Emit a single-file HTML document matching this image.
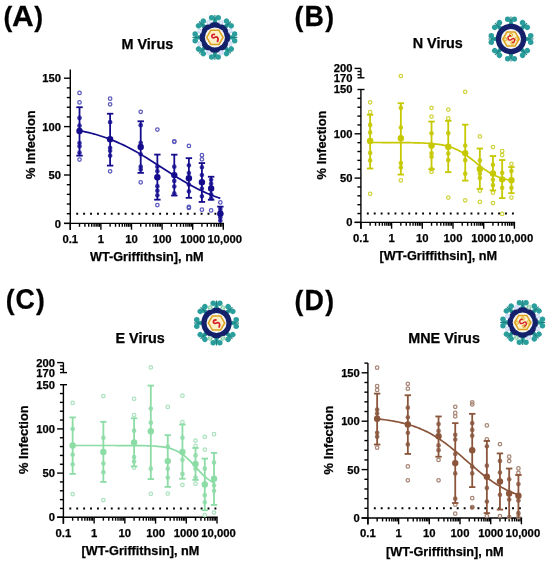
<!DOCTYPE html>
<html><head><meta charset="utf-8"><style>
html,body{margin:0;padding:0;background:#fff;width:550px;height:564px;overflow:hidden}
svg{display:block;will-change:transform}
text{font-family:"Liberation Sans", sans-serif;fill:#000;stroke:#000;stroke-width:0.25}
</style></head><body>
<svg width="550" height="564" viewBox="0 0 550 564">
<rect width="550" height="564" fill="#fff"/>
<line x1="70.3" y1="229.9" x2="70.3" y2="69.49" stroke="#000" stroke-width="1.4"/>
<line x1="64" y1="223.4" x2="224" y2="223.4" stroke="#000" stroke-width="1.4"/>
<line x1="64" y1="223.4" x2="70.3" y2="223.4" stroke="#000" stroke-width="1.4"/>
<text x="61" y="227.5" text-anchor="end" font-size="11.2" font-weight="bold">0</text>
<line x1="66.8" y1="213.72" x2="70.3" y2="213.72" stroke="#000" stroke-width="1.4"/>
<line x1="66.8" y1="204.04" x2="70.3" y2="204.04" stroke="#000" stroke-width="1.4"/>
<line x1="66.8" y1="194.36" x2="70.3" y2="194.36" stroke="#000" stroke-width="1.4"/>
<line x1="66.8" y1="184.68" x2="70.3" y2="184.68" stroke="#000" stroke-width="1.4"/>
<line x1="64" y1="175" x2="70.3" y2="175" stroke="#000" stroke-width="1.4"/>
<text x="61" y="179.1" text-anchor="end" font-size="11.2" font-weight="bold">50</text>
<line x1="66.8" y1="165.32" x2="70.3" y2="165.32" stroke="#000" stroke-width="1.4"/>
<line x1="66.8" y1="155.64" x2="70.3" y2="155.64" stroke="#000" stroke-width="1.4"/>
<line x1="66.8" y1="145.96" x2="70.3" y2="145.96" stroke="#000" stroke-width="1.4"/>
<line x1="66.8" y1="136.28" x2="70.3" y2="136.28" stroke="#000" stroke-width="1.4"/>
<line x1="64" y1="126.6" x2="70.3" y2="126.6" stroke="#000" stroke-width="1.4"/>
<text x="61" y="130.7" text-anchor="end" font-size="11.2" font-weight="bold">100</text>
<line x1="66.8" y1="116.92" x2="70.3" y2="116.92" stroke="#000" stroke-width="1.4"/>
<line x1="66.8" y1="107.24" x2="70.3" y2="107.24" stroke="#000" stroke-width="1.4"/>
<line x1="66.8" y1="97.56" x2="70.3" y2="97.56" stroke="#000" stroke-width="1.4"/>
<line x1="66.8" y1="87.88" x2="70.3" y2="87.88" stroke="#000" stroke-width="1.4"/>
<line x1="64" y1="78.2" x2="70.3" y2="78.2" stroke="#000" stroke-width="1.4"/>
<text x="61" y="82.3" text-anchor="end" font-size="11.2" font-weight="bold">150</text>
<line x1="70.3" y1="223.4" x2="70.3" y2="229.7" stroke="#000" stroke-width="1.4"/>
<line x1="79.51" y1="223.4" x2="79.51" y2="226.8" stroke="#000" stroke-width="1.4"/>
<line x1="84.9" y1="223.4" x2="84.9" y2="226.8" stroke="#000" stroke-width="1.4"/>
<line x1="88.72" y1="223.4" x2="88.72" y2="226.8" stroke="#000" stroke-width="1.4"/>
<line x1="91.69" y1="223.4" x2="91.69" y2="226.8" stroke="#000" stroke-width="1.4"/>
<line x1="94.11" y1="223.4" x2="94.11" y2="226.8" stroke="#000" stroke-width="1.4"/>
<line x1="96.16" y1="223.4" x2="96.16" y2="226.8" stroke="#000" stroke-width="1.4"/>
<line x1="97.93" y1="223.4" x2="97.93" y2="226.8" stroke="#000" stroke-width="1.4"/>
<line x1="99.5" y1="223.4" x2="99.5" y2="226.8" stroke="#000" stroke-width="1.4"/>
<text x="70.3" y="242.6" text-anchor="middle" font-size="11.3" font-weight="bold">0.1</text>
<line x1="100.9" y1="223.4" x2="100.9" y2="229.7" stroke="#000" stroke-width="1.4"/>
<line x1="110.11" y1="223.4" x2="110.11" y2="226.8" stroke="#000" stroke-width="1.4"/>
<line x1="115.5" y1="223.4" x2="115.5" y2="226.8" stroke="#000" stroke-width="1.4"/>
<line x1="119.32" y1="223.4" x2="119.32" y2="226.8" stroke="#000" stroke-width="1.4"/>
<line x1="122.29" y1="223.4" x2="122.29" y2="226.8" stroke="#000" stroke-width="1.4"/>
<line x1="124.71" y1="223.4" x2="124.71" y2="226.8" stroke="#000" stroke-width="1.4"/>
<line x1="126.76" y1="223.4" x2="126.76" y2="226.8" stroke="#000" stroke-width="1.4"/>
<line x1="128.53" y1="223.4" x2="128.53" y2="226.8" stroke="#000" stroke-width="1.4"/>
<line x1="130.1" y1="223.4" x2="130.1" y2="226.8" stroke="#000" stroke-width="1.4"/>
<text x="100.9" y="242.6" text-anchor="middle" font-size="11.3" font-weight="bold">1</text>
<line x1="131.5" y1="223.4" x2="131.5" y2="229.7" stroke="#000" stroke-width="1.4"/>
<line x1="140.71" y1="223.4" x2="140.71" y2="226.8" stroke="#000" stroke-width="1.4"/>
<line x1="146.1" y1="223.4" x2="146.1" y2="226.8" stroke="#000" stroke-width="1.4"/>
<line x1="149.92" y1="223.4" x2="149.92" y2="226.8" stroke="#000" stroke-width="1.4"/>
<line x1="152.89" y1="223.4" x2="152.89" y2="226.8" stroke="#000" stroke-width="1.4"/>
<line x1="155.31" y1="223.4" x2="155.31" y2="226.8" stroke="#000" stroke-width="1.4"/>
<line x1="157.36" y1="223.4" x2="157.36" y2="226.8" stroke="#000" stroke-width="1.4"/>
<line x1="159.13" y1="223.4" x2="159.13" y2="226.8" stroke="#000" stroke-width="1.4"/>
<line x1="160.7" y1="223.4" x2="160.7" y2="226.8" stroke="#000" stroke-width="1.4"/>
<text x="131.5" y="242.6" text-anchor="middle" font-size="11.3" font-weight="bold">10</text>
<line x1="162.1" y1="223.4" x2="162.1" y2="229.7" stroke="#000" stroke-width="1.4"/>
<line x1="171.31" y1="223.4" x2="171.31" y2="226.8" stroke="#000" stroke-width="1.4"/>
<line x1="176.7" y1="223.4" x2="176.7" y2="226.8" stroke="#000" stroke-width="1.4"/>
<line x1="180.52" y1="223.4" x2="180.52" y2="226.8" stroke="#000" stroke-width="1.4"/>
<line x1="183.49" y1="223.4" x2="183.49" y2="226.8" stroke="#000" stroke-width="1.4"/>
<line x1="185.91" y1="223.4" x2="185.91" y2="226.8" stroke="#000" stroke-width="1.4"/>
<line x1="187.96" y1="223.4" x2="187.96" y2="226.8" stroke="#000" stroke-width="1.4"/>
<line x1="189.73" y1="223.4" x2="189.73" y2="226.8" stroke="#000" stroke-width="1.4"/>
<line x1="191.3" y1="223.4" x2="191.3" y2="226.8" stroke="#000" stroke-width="1.4"/>
<text x="162.1" y="242.6" text-anchor="middle" font-size="11.3" font-weight="bold">100</text>
<line x1="192.7" y1="223.4" x2="192.7" y2="229.7" stroke="#000" stroke-width="1.4"/>
<line x1="201.91" y1="223.4" x2="201.91" y2="226.8" stroke="#000" stroke-width="1.4"/>
<line x1="207.3" y1="223.4" x2="207.3" y2="226.8" stroke="#000" stroke-width="1.4"/>
<line x1="211.12" y1="223.4" x2="211.12" y2="226.8" stroke="#000" stroke-width="1.4"/>
<line x1="214.09" y1="223.4" x2="214.09" y2="226.8" stroke="#000" stroke-width="1.4"/>
<line x1="216.51" y1="223.4" x2="216.51" y2="226.8" stroke="#000" stroke-width="1.4"/>
<line x1="218.56" y1="223.4" x2="218.56" y2="226.8" stroke="#000" stroke-width="1.4"/>
<line x1="220.33" y1="223.4" x2="220.33" y2="226.8" stroke="#000" stroke-width="1.4"/>
<line x1="221.9" y1="223.4" x2="221.9" y2="226.8" stroke="#000" stroke-width="1.4"/>
<text x="192.7" y="242.6" text-anchor="middle" font-size="11.3" font-weight="bold">1000</text>
<line x1="223.3" y1="223.4" x2="223.3" y2="229.7" stroke="#000" stroke-width="1.4"/>
<text x="224.8" y="242.6" text-anchor="middle" font-size="11.3" font-weight="bold">10,000</text>
<path d="M76.25 212.77h1.9v1.9h-1.9zM83.16 212.77h1.9v1.9h-1.9zM90.07 212.77h1.9v1.9h-1.9zM96.98 212.77h1.9v1.9h-1.9zM103.89 212.77h1.9v1.9h-1.9zM110.8 212.77h1.9v1.9h-1.9zM117.71 212.77h1.9v1.9h-1.9zM124.62 212.77h1.9v1.9h-1.9zM131.53 212.77h1.9v1.9h-1.9zM138.44 212.77h1.9v1.9h-1.9zM145.35 212.77h1.9v1.9h-1.9zM152.26 212.77h1.9v1.9h-1.9zM159.17 212.77h1.9v1.9h-1.9zM166.08 212.77h1.9v1.9h-1.9zM172.99 212.77h1.9v1.9h-1.9zM179.9 212.77h1.9v1.9h-1.9zM186.81 212.77h1.9v1.9h-1.9zM193.72 212.77h1.9v1.9h-1.9zM200.63 212.77h1.9v1.9h-1.9zM207.54 212.77h1.9v1.9h-1.9zM214.45 212.77h1.9v1.9h-1.9zM221.36 212.77h1.9v1.9h-1.9z" fill="#000"/>
<circle cx="79.51" cy="92.91" r="1.75" fill="none" stroke="#5c5abe" stroke-width="1.25"/>
<circle cx="79.51" cy="102.4" r="1.75" fill="none" stroke="#5c5abe" stroke-width="1.25"/>
<circle cx="79.51" cy="159.51" r="1.75" fill="none" stroke="#5c5abe" stroke-width="1.25"/>
<circle cx="79.51" cy="117.89" r="1.75" fill="none" stroke="#5c5abe" stroke-width="1.25"/>
<circle cx="79.51" cy="125.63" r="1.75" fill="none" stroke="#5c5abe" stroke-width="1.25"/>
<circle cx="79.51" cy="143.06" r="1.75" fill="none" stroke="#5c5abe" stroke-width="1.25"/>
<circle cx="79.51" cy="146.35" r="1.75" fill="none" stroke="#5c5abe" stroke-width="1.25"/>
<circle cx="79.51" cy="152.74" r="1.75" fill="none" stroke="#5c5abe" stroke-width="1.25"/>
<line x1="79.51" y1="107.24" x2="79.51" y2="155.64" stroke="#140c8c" stroke-width="1.8"/>
<line x1="76.31" y1="107.24" x2="82.71" y2="107.24" stroke="#140c8c" stroke-width="1.8"/>
<line x1="76.31" y1="155.64" x2="82.71" y2="155.64" stroke="#140c8c" stroke-width="1.8"/>
<ellipse cx="79.51" cy="117.89" rx="1.9" ry="1.6" fill="#140c8c" opacity="0.7"/>
<ellipse cx="79.51" cy="125.63" rx="1.9" ry="1.6" fill="#140c8c" opacity="0.7"/>
<ellipse cx="79.51" cy="143.06" rx="1.9" ry="1.6" fill="#140c8c" opacity="0.7"/>
<ellipse cx="79.51" cy="146.35" rx="1.9" ry="1.6" fill="#140c8c" opacity="0.7"/>
<ellipse cx="79.51" cy="152.74" rx="1.9" ry="1.6" fill="#140c8c" opacity="0.7"/>
<circle cx="79.51" cy="130.96" r="3.2" fill="#140c8c"/>
<circle cx="110.11" cy="98.72" r="1.75" fill="none" stroke="#5c5abe" stroke-width="1.25"/>
<circle cx="110.11" cy="104.34" r="1.75" fill="none" stroke="#5c5abe" stroke-width="1.25"/>
<circle cx="110.11" cy="171.32" r="1.75" fill="none" stroke="#5c5abe" stroke-width="1.25"/>
<circle cx="110.11" cy="122.15" r="1.75" fill="none" stroke="#5c5abe" stroke-width="1.25"/>
<circle cx="110.11" cy="147.9" r="1.75" fill="none" stroke="#5c5abe" stroke-width="1.25"/>
<circle cx="110.11" cy="150.8" r="1.75" fill="none" stroke="#5c5abe" stroke-width="1.25"/>
<circle cx="110.11" cy="155.64" r="1.75" fill="none" stroke="#5c5abe" stroke-width="1.25"/>
<line x1="110.11" y1="113.73" x2="110.11" y2="165.61" stroke="#140c8c" stroke-width="1.8"/>
<line x1="106.91" y1="113.73" x2="113.31" y2="113.73" stroke="#140c8c" stroke-width="1.8"/>
<line x1="106.91" y1="165.61" x2="113.31" y2="165.61" stroke="#140c8c" stroke-width="1.8"/>
<ellipse cx="110.11" cy="122.15" rx="1.9" ry="1.6" fill="#140c8c" opacity="0.7"/>
<ellipse cx="110.11" cy="147.9" rx="1.9" ry="1.6" fill="#140c8c" opacity="0.7"/>
<ellipse cx="110.11" cy="150.8" rx="1.9" ry="1.6" fill="#140c8c" opacity="0.7"/>
<ellipse cx="110.11" cy="155.64" rx="1.9" ry="1.6" fill="#140c8c" opacity="0.7"/>
<circle cx="110.11" cy="139.18" r="3.2" fill="#140c8c"/>
<circle cx="140.71" cy="111.79" r="1.75" fill="none" stroke="#5c5abe" stroke-width="1.25"/>
<circle cx="140.71" cy="182.36" r="1.75" fill="none" stroke="#5c5abe" stroke-width="1.25"/>
<circle cx="140.71" cy="125.15" r="1.75" fill="none" stroke="#5c5abe" stroke-width="1.25"/>
<circle cx="140.71" cy="142.77" r="1.75" fill="none" stroke="#5c5abe" stroke-width="1.25"/>
<circle cx="140.71" cy="154.28" r="1.75" fill="none" stroke="#5c5abe" stroke-width="1.25"/>
<circle cx="140.71" cy="166.68" r="1.75" fill="none" stroke="#5c5abe" stroke-width="1.25"/>
<circle cx="140.71" cy="169.39" r="1.75" fill="none" stroke="#5c5abe" stroke-width="1.25"/>
<line x1="140.71" y1="121.28" x2="140.71" y2="172.87" stroke="#140c8c" stroke-width="1.8"/>
<line x1="137.51" y1="121.28" x2="143.91" y2="121.28" stroke="#140c8c" stroke-width="1.8"/>
<line x1="137.51" y1="172.87" x2="143.91" y2="172.87" stroke="#140c8c" stroke-width="1.8"/>
<ellipse cx="140.71" cy="125.15" rx="1.9" ry="1.6" fill="#140c8c" opacity="0.7"/>
<ellipse cx="140.71" cy="142.77" rx="1.9" ry="1.6" fill="#140c8c" opacity="0.7"/>
<ellipse cx="140.71" cy="154.28" rx="1.9" ry="1.6" fill="#140c8c" opacity="0.7"/>
<ellipse cx="140.71" cy="166.68" rx="1.9" ry="1.6" fill="#140c8c" opacity="0.7"/>
<ellipse cx="140.71" cy="169.39" rx="1.9" ry="1.6" fill="#140c8c" opacity="0.7"/>
<circle cx="140.71" cy="146.93" r="3.2" fill="#140c8c"/>
<circle cx="157.36" cy="129.5" r="1.75" fill="none" stroke="#5c5abe" stroke-width="1.25"/>
<circle cx="157.36" cy="205.01" r="1.75" fill="none" stroke="#5c5abe" stroke-width="1.25"/>
<circle cx="157.36" cy="166.68" r="1.75" fill="none" stroke="#5c5abe" stroke-width="1.25"/>
<circle cx="157.36" cy="171.13" r="1.75" fill="none" stroke="#5c5abe" stroke-width="1.25"/>
<circle cx="157.36" cy="186.23" r="1.75" fill="none" stroke="#5c5abe" stroke-width="1.25"/>
<circle cx="157.36" cy="190.68" r="1.75" fill="none" stroke="#5c5abe" stroke-width="1.25"/>
<circle cx="157.36" cy="195.33" r="1.75" fill="none" stroke="#5c5abe" stroke-width="1.25"/>
<line x1="157.36" y1="154.58" x2="157.36" y2="199.68" stroke="#140c8c" stroke-width="1.8"/>
<line x1="154.16" y1="154.58" x2="160.56" y2="154.58" stroke="#140c8c" stroke-width="1.8"/>
<line x1="154.16" y1="199.68" x2="160.56" y2="199.68" stroke="#140c8c" stroke-width="1.8"/>
<ellipse cx="157.36" cy="166.68" rx="1.9" ry="1.6" fill="#140c8c" opacity="0.7"/>
<ellipse cx="157.36" cy="171.13" rx="1.9" ry="1.6" fill="#140c8c" opacity="0.7"/>
<ellipse cx="157.36" cy="186.23" rx="1.9" ry="1.6" fill="#140c8c" opacity="0.7"/>
<ellipse cx="157.36" cy="190.68" rx="1.9" ry="1.6" fill="#140c8c" opacity="0.7"/>
<ellipse cx="157.36" cy="195.33" rx="1.9" ry="1.6" fill="#140c8c" opacity="0.7"/>
<circle cx="157.36" cy="177.32" r="3.2" fill="#140c8c"/>
<circle cx="174.28" cy="141.8" r="1.75" fill="none" stroke="#5c5abe" stroke-width="1.25"/>
<circle cx="174.28" cy="141.31" r="1.75" fill="none" stroke="#5c5abe" stroke-width="1.25"/>
<circle cx="174.28" cy="166.68" r="1.75" fill="none" stroke="#5c5abe" stroke-width="1.25"/>
<circle cx="174.28" cy="180.9" r="1.75" fill="none" stroke="#5c5abe" stroke-width="1.25"/>
<circle cx="174.28" cy="186.62" r="1.75" fill="none" stroke="#5c5abe" stroke-width="1.25"/>
<circle cx="174.28" cy="193.39" r="1.75" fill="none" stroke="#5c5abe" stroke-width="1.25"/>
<line x1="174.28" y1="154.67" x2="174.28" y2="195.52" stroke="#140c8c" stroke-width="1.8"/>
<line x1="171.08" y1="154.67" x2="177.48" y2="154.67" stroke="#140c8c" stroke-width="1.8"/>
<line x1="171.08" y1="195.52" x2="177.48" y2="195.52" stroke="#140c8c" stroke-width="1.8"/>
<ellipse cx="174.28" cy="166.68" rx="1.9" ry="1.6" fill="#140c8c" opacity="0.7"/>
<ellipse cx="174.28" cy="180.9" rx="1.9" ry="1.6" fill="#140c8c" opacity="0.7"/>
<ellipse cx="174.28" cy="186.62" rx="1.9" ry="1.6" fill="#140c8c" opacity="0.7"/>
<ellipse cx="174.28" cy="193.39" rx="1.9" ry="1.6" fill="#140c8c" opacity="0.7"/>
<circle cx="174.28" cy="175.1" r="3.2" fill="#140c8c"/>
<circle cx="188.88" cy="145.96" r="1.75" fill="none" stroke="#5c5abe" stroke-width="1.25"/>
<circle cx="188.88" cy="206.94" r="1.75" fill="none" stroke="#5c5abe" stroke-width="1.25"/>
<circle cx="188.88" cy="207.91" r="1.75" fill="none" stroke="#5c5abe" stroke-width="1.25"/>
<circle cx="188.88" cy="165.32" r="1.75" fill="none" stroke="#5c5abe" stroke-width="1.25"/>
<circle cx="188.88" cy="173.06" r="1.75" fill="none" stroke="#5c5abe" stroke-width="1.25"/>
<circle cx="188.88" cy="184.68" r="1.75" fill="none" stroke="#5c5abe" stroke-width="1.25"/>
<circle cx="188.88" cy="191.46" r="1.75" fill="none" stroke="#5c5abe" stroke-width="1.25"/>
<line x1="188.88" y1="158.16" x2="188.88" y2="197.84" stroke="#140c8c" stroke-width="1.8"/>
<line x1="185.68" y1="158.16" x2="192.08" y2="158.16" stroke="#140c8c" stroke-width="1.8"/>
<line x1="185.68" y1="197.84" x2="192.08" y2="197.84" stroke="#140c8c" stroke-width="1.8"/>
<ellipse cx="188.88" cy="165.32" rx="1.9" ry="1.6" fill="#140c8c" opacity="0.7"/>
<ellipse cx="188.88" cy="173.06" rx="1.9" ry="1.6" fill="#140c8c" opacity="0.7"/>
<ellipse cx="188.88" cy="184.68" rx="1.9" ry="1.6" fill="#140c8c" opacity="0.7"/>
<ellipse cx="188.88" cy="191.46" rx="1.9" ry="1.6" fill="#140c8c" opacity="0.7"/>
<circle cx="188.88" cy="178.19" r="3.2" fill="#140c8c"/>
<circle cx="201.91" cy="155.16" r="1.75" fill="none" stroke="#5c5abe" stroke-width="1.25"/>
<circle cx="201.91" cy="159.32" r="1.75" fill="none" stroke="#5c5abe" stroke-width="1.25"/>
<circle cx="201.91" cy="209.65" r="1.75" fill="none" stroke="#5c5abe" stroke-width="1.25"/>
<circle cx="201.91" cy="167.26" r="1.75" fill="none" stroke="#5c5abe" stroke-width="1.25"/>
<circle cx="201.91" cy="175" r="1.75" fill="none" stroke="#5c5abe" stroke-width="1.25"/>
<circle cx="201.91" cy="188.55" r="1.75" fill="none" stroke="#5c5abe" stroke-width="1.25"/>
<circle cx="201.91" cy="196.3" r="1.75" fill="none" stroke="#5c5abe" stroke-width="1.25"/>
<line x1="201.91" y1="163.09" x2="201.91" y2="201.91" stroke="#140c8c" stroke-width="1.8"/>
<line x1="198.71" y1="163.09" x2="205.11" y2="163.09" stroke="#140c8c" stroke-width="1.8"/>
<line x1="198.71" y1="201.91" x2="205.11" y2="201.91" stroke="#140c8c" stroke-width="1.8"/>
<ellipse cx="201.91" cy="167.26" rx="1.9" ry="1.6" fill="#140c8c" opacity="0.7"/>
<ellipse cx="201.91" cy="175" rx="1.9" ry="1.6" fill="#140c8c" opacity="0.7"/>
<ellipse cx="201.91" cy="188.55" rx="1.9" ry="1.6" fill="#140c8c" opacity="0.7"/>
<ellipse cx="201.91" cy="196.3" rx="1.9" ry="1.6" fill="#140c8c" opacity="0.7"/>
<circle cx="201.91" cy="182.26" r="3.2" fill="#140c8c"/>
<circle cx="211.12" cy="210.43" r="1.75" fill="none" stroke="#5c5abe" stroke-width="1.25"/>
<circle cx="211.12" cy="179.84" r="1.75" fill="none" stroke="#5c5abe" stroke-width="1.25"/>
<circle cx="211.12" cy="183.71" r="1.75" fill="none" stroke="#5c5abe" stroke-width="1.25"/>
<circle cx="211.12" cy="194.36" r="1.75" fill="none" stroke="#5c5abe" stroke-width="1.25"/>
<circle cx="211.12" cy="198.23" r="1.75" fill="none" stroke="#5c5abe" stroke-width="1.25"/>
<line x1="211.12" y1="176.74" x2="211.12" y2="199.78" stroke="#140c8c" stroke-width="1.8"/>
<line x1="207.92" y1="176.74" x2="214.32" y2="176.74" stroke="#140c8c" stroke-width="1.8"/>
<line x1="207.92" y1="199.78" x2="214.32" y2="199.78" stroke="#140c8c" stroke-width="1.8"/>
<ellipse cx="211.12" cy="179.84" rx="1.9" ry="1.6" fill="#140c8c" opacity="0.7"/>
<ellipse cx="211.12" cy="183.71" rx="1.9" ry="1.6" fill="#140c8c" opacity="0.7"/>
<ellipse cx="211.12" cy="194.36" rx="1.9" ry="1.6" fill="#140c8c" opacity="0.7"/>
<ellipse cx="211.12" cy="198.23" rx="1.9" ry="1.6" fill="#140c8c" opacity="0.7"/>
<circle cx="211.12" cy="188.55" r="3.2" fill="#140c8c"/>
<circle cx="220.33" cy="202.39" r="1.75" fill="none" stroke="#5c5abe" stroke-width="1.25"/>
<circle cx="220.33" cy="208.88" r="1.75" fill="none" stroke="#5c5abe" stroke-width="1.25"/>
<circle cx="220.33" cy="211.78" r="1.75" fill="none" stroke="#5c5abe" stroke-width="1.25"/>
<circle cx="220.33" cy="217.59" r="1.75" fill="none" stroke="#5c5abe" stroke-width="1.25"/>
<circle cx="220.33" cy="220.5" r="1.75" fill="none" stroke="#5c5abe" stroke-width="1.25"/>
<line x1="220.33" y1="206.65" x2="220.33" y2="222.92" stroke="#140c8c" stroke-width="1.8"/>
<line x1="217.13" y1="206.65" x2="223.53" y2="206.65" stroke="#140c8c" stroke-width="1.8"/>
<ellipse cx="220.33" cy="208.88" rx="1.9" ry="1.6" fill="#140c8c" opacity="0.7"/>
<ellipse cx="220.33" cy="211.78" rx="1.9" ry="1.6" fill="#140c8c" opacity="0.7"/>
<ellipse cx="220.33" cy="217.59" rx="1.9" ry="1.6" fill="#140c8c" opacity="0.7"/>
<ellipse cx="220.33" cy="220.5" rx="1.9" ry="1.6" fill="#140c8c" opacity="0.7"/>
<circle cx="220.33" cy="213.72" r="3.2" fill="#140c8c"/>
<polyline points="79.51,130.56 81.86,131.04 84.21,131.55 86.55,132.08 88.9,132.65 91.25,133.24 93.59,133.87 95.94,134.54 98.29,135.23 100.63,135.96 102.98,136.73 105.33,137.54 107.68,138.38 110.02,139.26 112.37,140.19 114.72,141.15 117.06,142.15 119.41,143.19 121.76,144.27 124.11,145.39 126.45,146.54 128.8,147.74 131.15,148.97 133.49,150.24 135.84,151.54 138.19,152.88 140.53,154.24 142.88,155.64 145.23,157.06 147.58,158.5 149.92,159.96 152.27,161.44 154.62,162.94 156.96,164.44 159.31,165.96 161.66,167.47 164.01,168.99 166.35,170.5 168.7,172.01 171.05,173.51 173.39,174.99 175.74,176.46 178.09,177.91 180.43,179.33 182.78,180.73 185.13,182.1 187.48,183.45 189.82,184.76 192.17,186.03 194.52,187.28 196.86,188.48 199.21,189.65 201.56,190.78 203.91,191.87 206.25,192.91 208.6,193.92 210.95,194.9 213.29,195.83 215.64,196.72 217.99,197.57 220.33,198.38" fill="none" stroke="#140c8c" stroke-width="1.7"/>
<text transform="translate(3.58,25.59) scale(0.95,1)" font-size="27.8" font-weight="bold">(</text>
<text transform="translate(34.31,25.59) scale(0.95,1)" font-size="27.8" font-weight="bold">)</text>
<text transform="translate(12,26.1) scale(1.03,1)" font-size="29.2" font-weight="bold">A</text>
<text x="121.5" y="48.6" font-size="14.4" font-weight="bold">M Virus</text>
<text x="0" y="0" transform="translate(35,144.7) rotate(-90)" text-anchor="middle" font-size="12.9" font-weight="bold">% Infection</text>
<text x="90" y="261" font-size="12.7" font-weight="bold">WT-Griffithsin], nM</text>
<line x1="360.9" y1="228.9" x2="360.9" y2="89.5" stroke="#000" stroke-width="1.4"/>
<line x1="354.6" y1="222.4" x2="515.1" y2="222.4" stroke="#000" stroke-width="1.4"/>
<line x1="354.6" y1="222.4" x2="360.9" y2="222.4" stroke="#000" stroke-width="1.4"/>
<text x="352.4" y="226.2" text-anchor="end" font-size="11.2" font-weight="bold">0</text>
<line x1="357.4" y1="213.54" x2="360.9" y2="213.54" stroke="#000" stroke-width="1.4"/>
<line x1="357.4" y1="204.68" x2="360.9" y2="204.68" stroke="#000" stroke-width="1.4"/>
<line x1="357.4" y1="195.82" x2="360.9" y2="195.82" stroke="#000" stroke-width="1.4"/>
<line x1="357.4" y1="186.96" x2="360.9" y2="186.96" stroke="#000" stroke-width="1.4"/>
<line x1="354.6" y1="178.1" x2="360.9" y2="178.1" stroke="#000" stroke-width="1.4"/>
<text x="352.4" y="181.9" text-anchor="end" font-size="11.2" font-weight="bold">50</text>
<line x1="357.4" y1="169.24" x2="360.9" y2="169.24" stroke="#000" stroke-width="1.4"/>
<line x1="357.4" y1="160.38" x2="360.9" y2="160.38" stroke="#000" stroke-width="1.4"/>
<line x1="357.4" y1="151.52" x2="360.9" y2="151.52" stroke="#000" stroke-width="1.4"/>
<line x1="357.4" y1="142.66" x2="360.9" y2="142.66" stroke="#000" stroke-width="1.4"/>
<line x1="354.6" y1="133.8" x2="360.9" y2="133.8" stroke="#000" stroke-width="1.4"/>
<text x="352.4" y="137.6" text-anchor="end" font-size="11.2" font-weight="bold">100</text>
<line x1="357.4" y1="124.94" x2="360.9" y2="124.94" stroke="#000" stroke-width="1.4"/>
<line x1="357.4" y1="116.08" x2="360.9" y2="116.08" stroke="#000" stroke-width="1.4"/>
<line x1="357.4" y1="107.22" x2="360.9" y2="107.22" stroke="#000" stroke-width="1.4"/>
<line x1="357.4" y1="98.36" x2="360.9" y2="98.36" stroke="#000" stroke-width="1.4"/>
<line x1="357.5" y1="89.5" x2="364.5" y2="89.5" stroke="#000" stroke-width="1.4"/>
<text x="352.4" y="93.3" text-anchor="end" font-size="11.2" font-weight="bold">150</text>
<line x1="360.9" y1="77.8" x2="360.9" y2="68.4" stroke="#000" stroke-width="1.4"/>
<line x1="354.6" y1="68.4" x2="360.9" y2="68.4" stroke="#000" stroke-width="1.4"/>
<line x1="357.5" y1="74.67" x2="360.9" y2="74.67" stroke="#000" stroke-width="1.4"/>
<line x1="357.5" y1="71.53" x2="360.9" y2="71.53" stroke="#000" stroke-width="1.4"/>
<line x1="357.5" y1="77.8" x2="364.5" y2="77.8" stroke="#000" stroke-width="1.4"/>
<text x="352.4" y="72.4" text-anchor="end" font-size="11.2" font-weight="bold">200</text>
<text x="352.4" y="81.8" text-anchor="end" font-size="11.2" font-weight="bold">170</text>
<line x1="360.9" y1="222.4" x2="360.9" y2="228.7" stroke="#000" stroke-width="1.4"/>
<line x1="370.14" y1="222.4" x2="370.14" y2="225.8" stroke="#000" stroke-width="1.4"/>
<line x1="375.55" y1="222.4" x2="375.55" y2="225.8" stroke="#000" stroke-width="1.4"/>
<line x1="379.38" y1="222.4" x2="379.38" y2="225.8" stroke="#000" stroke-width="1.4"/>
<line x1="382.36" y1="222.4" x2="382.36" y2="225.8" stroke="#000" stroke-width="1.4"/>
<line x1="384.79" y1="222.4" x2="384.79" y2="225.8" stroke="#000" stroke-width="1.4"/>
<line x1="386.84" y1="222.4" x2="386.84" y2="225.8" stroke="#000" stroke-width="1.4"/>
<line x1="388.62" y1="222.4" x2="388.62" y2="225.8" stroke="#000" stroke-width="1.4"/>
<line x1="390.2" y1="222.4" x2="390.2" y2="225.8" stroke="#000" stroke-width="1.4"/>
<text x="360.9" y="241.6" text-anchor="middle" font-size="11.3" font-weight="bold">0.1</text>
<line x1="391.6" y1="222.4" x2="391.6" y2="228.7" stroke="#000" stroke-width="1.4"/>
<line x1="400.84" y1="222.4" x2="400.84" y2="225.8" stroke="#000" stroke-width="1.4"/>
<line x1="406.25" y1="222.4" x2="406.25" y2="225.8" stroke="#000" stroke-width="1.4"/>
<line x1="410.08" y1="222.4" x2="410.08" y2="225.8" stroke="#000" stroke-width="1.4"/>
<line x1="413.06" y1="222.4" x2="413.06" y2="225.8" stroke="#000" stroke-width="1.4"/>
<line x1="415.49" y1="222.4" x2="415.49" y2="225.8" stroke="#000" stroke-width="1.4"/>
<line x1="417.54" y1="222.4" x2="417.54" y2="225.8" stroke="#000" stroke-width="1.4"/>
<line x1="419.32" y1="222.4" x2="419.32" y2="225.8" stroke="#000" stroke-width="1.4"/>
<line x1="420.9" y1="222.4" x2="420.9" y2="225.8" stroke="#000" stroke-width="1.4"/>
<text x="391.6" y="241.6" text-anchor="middle" font-size="11.3" font-weight="bold">1</text>
<line x1="422.3" y1="222.4" x2="422.3" y2="228.7" stroke="#000" stroke-width="1.4"/>
<line x1="431.54" y1="222.4" x2="431.54" y2="225.8" stroke="#000" stroke-width="1.4"/>
<line x1="436.95" y1="222.4" x2="436.95" y2="225.8" stroke="#000" stroke-width="1.4"/>
<line x1="440.78" y1="222.4" x2="440.78" y2="225.8" stroke="#000" stroke-width="1.4"/>
<line x1="443.76" y1="222.4" x2="443.76" y2="225.8" stroke="#000" stroke-width="1.4"/>
<line x1="446.19" y1="222.4" x2="446.19" y2="225.8" stroke="#000" stroke-width="1.4"/>
<line x1="448.24" y1="222.4" x2="448.24" y2="225.8" stroke="#000" stroke-width="1.4"/>
<line x1="450.02" y1="222.4" x2="450.02" y2="225.8" stroke="#000" stroke-width="1.4"/>
<line x1="451.6" y1="222.4" x2="451.6" y2="225.8" stroke="#000" stroke-width="1.4"/>
<text x="422.3" y="241.6" text-anchor="middle" font-size="11.3" font-weight="bold">10</text>
<line x1="453" y1="222.4" x2="453" y2="228.7" stroke="#000" stroke-width="1.4"/>
<line x1="462.24" y1="222.4" x2="462.24" y2="225.8" stroke="#000" stroke-width="1.4"/>
<line x1="467.65" y1="222.4" x2="467.65" y2="225.8" stroke="#000" stroke-width="1.4"/>
<line x1="471.48" y1="222.4" x2="471.48" y2="225.8" stroke="#000" stroke-width="1.4"/>
<line x1="474.46" y1="222.4" x2="474.46" y2="225.8" stroke="#000" stroke-width="1.4"/>
<line x1="476.89" y1="222.4" x2="476.89" y2="225.8" stroke="#000" stroke-width="1.4"/>
<line x1="478.94" y1="222.4" x2="478.94" y2="225.8" stroke="#000" stroke-width="1.4"/>
<line x1="480.72" y1="222.4" x2="480.72" y2="225.8" stroke="#000" stroke-width="1.4"/>
<line x1="482.3" y1="222.4" x2="482.3" y2="225.8" stroke="#000" stroke-width="1.4"/>
<text x="453" y="241.6" text-anchor="middle" font-size="11.3" font-weight="bold">100</text>
<line x1="483.7" y1="222.4" x2="483.7" y2="228.7" stroke="#000" stroke-width="1.4"/>
<line x1="492.94" y1="222.4" x2="492.94" y2="225.8" stroke="#000" stroke-width="1.4"/>
<line x1="498.35" y1="222.4" x2="498.35" y2="225.8" stroke="#000" stroke-width="1.4"/>
<line x1="502.18" y1="222.4" x2="502.18" y2="225.8" stroke="#000" stroke-width="1.4"/>
<line x1="505.16" y1="222.4" x2="505.16" y2="225.8" stroke="#000" stroke-width="1.4"/>
<line x1="507.59" y1="222.4" x2="507.59" y2="225.8" stroke="#000" stroke-width="1.4"/>
<line x1="509.64" y1="222.4" x2="509.64" y2="225.8" stroke="#000" stroke-width="1.4"/>
<line x1="511.42" y1="222.4" x2="511.42" y2="225.8" stroke="#000" stroke-width="1.4"/>
<line x1="513" y1="222.4" x2="513" y2="225.8" stroke="#000" stroke-width="1.4"/>
<text x="483.7" y="241.6" text-anchor="middle" font-size="11.3" font-weight="bold">1000</text>
<line x1="514.4" y1="222.4" x2="514.4" y2="228.7" stroke="#000" stroke-width="1.4"/>
<text x="515.9" y="241.6" text-anchor="middle" font-size="11.3" font-weight="bold">10,000</text>
<path d="M366.85 212.59h1.9v1.9h-1.9zM373.76 212.59h1.9v1.9h-1.9zM380.67 212.59h1.9v1.9h-1.9zM387.58 212.59h1.9v1.9h-1.9zM394.49 212.59h1.9v1.9h-1.9zM401.4 212.59h1.9v1.9h-1.9zM408.31 212.59h1.9v1.9h-1.9zM415.22 212.59h1.9v1.9h-1.9zM422.13 212.59h1.9v1.9h-1.9zM429.04 212.59h1.9v1.9h-1.9zM435.95 212.59h1.9v1.9h-1.9zM442.86 212.59h1.9v1.9h-1.9zM449.77 212.59h1.9v1.9h-1.9zM456.68 212.59h1.9v1.9h-1.9zM463.59 212.59h1.9v1.9h-1.9zM470.5 212.59h1.9v1.9h-1.9zM477.41 212.59h1.9v1.9h-1.9zM484.32 212.59h1.9v1.9h-1.9zM491.23 212.59h1.9v1.9h-1.9zM498.14 212.59h1.9v1.9h-1.9zM505.05 212.59h1.9v1.9h-1.9zM511.96 212.59h1.9v1.9h-1.9z" fill="#000"/>
<circle cx="370.14" cy="102.35" r="1.75" fill="none" stroke="#d0d440" stroke-width="1.25"/>
<circle cx="370.14" cy="112.18" r="1.75" fill="none" stroke="#d0d440" stroke-width="1.25"/>
<circle cx="370.14" cy="193.78" r="1.75" fill="none" stroke="#d0d440" stroke-width="1.25"/>
<circle cx="370.14" cy="124.94" r="1.75" fill="none" stroke="#d0d440" stroke-width="1.25"/>
<circle cx="370.14" cy="132.47" r="1.75" fill="none" stroke="#d0d440" stroke-width="1.25"/>
<circle cx="370.14" cy="152.94" r="1.75" fill="none" stroke="#d0d440" stroke-width="1.25"/>
<circle cx="370.14" cy="160.38" r="1.75" fill="none" stroke="#d0d440" stroke-width="1.25"/>
<line x1="370.14" y1="114.75" x2="370.14" y2="168.53" stroke="#c6c800" stroke-width="1.8"/>
<line x1="366.94" y1="114.75" x2="373.34" y2="114.75" stroke="#c6c800" stroke-width="1.8"/>
<line x1="366.94" y1="168.53" x2="373.34" y2="168.53" stroke="#c6c800" stroke-width="1.8"/>
<ellipse cx="370.14" cy="124.94" rx="1.9" ry="1.6" fill="#c6c800" opacity="0.7"/>
<ellipse cx="370.14" cy="132.47" rx="1.9" ry="1.6" fill="#c6c800" opacity="0.7"/>
<ellipse cx="370.14" cy="152.94" rx="1.9" ry="1.6" fill="#c6c800" opacity="0.7"/>
<ellipse cx="370.14" cy="160.38" rx="1.9" ry="1.6" fill="#c6c800" opacity="0.7"/>
<circle cx="370.14" cy="141.07" r="3.2" fill="#c6c800"/>
<circle cx="400.84" cy="76.11" r="1.75" fill="none" stroke="#d0d440" stroke-width="1.25"/>
<circle cx="400.84" cy="180.4" r="1.75" fill="none" stroke="#d0d440" stroke-width="1.25"/>
<circle cx="400.84" cy="107.84" r="1.75" fill="none" stroke="#d0d440" stroke-width="1.25"/>
<circle cx="400.84" cy="127.6" r="1.75" fill="none" stroke="#d0d440" stroke-width="1.25"/>
<circle cx="400.84" cy="163.04" r="1.75" fill="none" stroke="#d0d440" stroke-width="1.25"/>
<circle cx="400.84" cy="167.47" r="1.75" fill="none" stroke="#d0d440" stroke-width="1.25"/>
<line x1="400.84" y1="103.23" x2="400.84" y2="174.56" stroke="#c6c800" stroke-width="1.8"/>
<line x1="397.64" y1="103.23" x2="404.04" y2="103.23" stroke="#c6c800" stroke-width="1.8"/>
<line x1="397.64" y1="174.56" x2="404.04" y2="174.56" stroke="#c6c800" stroke-width="1.8"/>
<ellipse cx="400.84" cy="107.84" rx="1.9" ry="1.6" fill="#c6c800" opacity="0.7"/>
<ellipse cx="400.84" cy="127.6" rx="1.9" ry="1.6" fill="#c6c800" opacity="0.7"/>
<ellipse cx="400.84" cy="163.04" rx="1.9" ry="1.6" fill="#c6c800" opacity="0.7"/>
<ellipse cx="400.84" cy="167.47" rx="1.9" ry="1.6" fill="#c6c800" opacity="0.7"/>
<circle cx="400.84" cy="138.23" r="3.2" fill="#c6c800"/>
<circle cx="431.54" cy="107.84" r="1.75" fill="none" stroke="#d0d440" stroke-width="1.25"/>
<circle cx="431.54" cy="116.52" r="1.75" fill="none" stroke="#d0d440" stroke-width="1.25"/>
<circle cx="431.54" cy="171.9" r="1.75" fill="none" stroke="#d0d440" stroke-width="1.25"/>
<circle cx="431.54" cy="133.36" r="1.75" fill="none" stroke="#d0d440" stroke-width="1.25"/>
<circle cx="431.54" cy="153.29" r="1.75" fill="none" stroke="#d0d440" stroke-width="1.25"/>
<circle cx="431.54" cy="156.84" r="1.75" fill="none" stroke="#d0d440" stroke-width="1.25"/>
<circle cx="431.54" cy="169.24" r="1.75" fill="none" stroke="#d0d440" stroke-width="1.25"/>
<line x1="431.54" y1="121.57" x2="431.54" y2="169.24" stroke="#c6c800" stroke-width="1.8"/>
<line x1="428.34" y1="121.57" x2="434.74" y2="121.57" stroke="#c6c800" stroke-width="1.8"/>
<line x1="428.34" y1="169.24" x2="434.74" y2="169.24" stroke="#c6c800" stroke-width="1.8"/>
<ellipse cx="431.54" cy="133.36" rx="1.9" ry="1.6" fill="#c6c800" opacity="0.7"/>
<ellipse cx="431.54" cy="153.29" rx="1.9" ry="1.6" fill="#c6c800" opacity="0.7"/>
<ellipse cx="431.54" cy="156.84" rx="1.9" ry="1.6" fill="#c6c800" opacity="0.7"/>
<ellipse cx="431.54" cy="169.24" rx="1.9" ry="1.6" fill="#c6c800" opacity="0.7"/>
<circle cx="431.54" cy="145.5" r="3.2" fill="#c6c800"/>
<circle cx="448.24" cy="109.52" r="1.75" fill="none" stroke="#d0d440" stroke-width="1.25"/>
<circle cx="448.24" cy="118.47" r="1.75" fill="none" stroke="#d0d440" stroke-width="1.25"/>
<circle cx="448.24" cy="197.59" r="1.75" fill="none" stroke="#d0d440" stroke-width="1.25"/>
<circle cx="448.24" cy="133.18" r="1.75" fill="none" stroke="#d0d440" stroke-width="1.25"/>
<circle cx="448.24" cy="153.56" r="1.75" fill="none" stroke="#d0d440" stroke-width="1.25"/>
<circle cx="448.24" cy="160.2" r="1.75" fill="none" stroke="#d0d440" stroke-width="1.25"/>
<line x1="448.24" y1="120.86" x2="448.24" y2="172.16" stroke="#c6c800" stroke-width="1.8"/>
<line x1="445.04" y1="120.86" x2="451.44" y2="120.86" stroke="#c6c800" stroke-width="1.8"/>
<line x1="445.04" y1="172.16" x2="451.44" y2="172.16" stroke="#c6c800" stroke-width="1.8"/>
<ellipse cx="448.24" cy="133.18" rx="1.9" ry="1.6" fill="#c6c800" opacity="0.7"/>
<ellipse cx="448.24" cy="153.56" rx="1.9" ry="1.6" fill="#c6c800" opacity="0.7"/>
<ellipse cx="448.24" cy="160.2" rx="1.9" ry="1.6" fill="#c6c800" opacity="0.7"/>
<circle cx="448.24" cy="146.82" r="3.2" fill="#c6c800"/>
<circle cx="465.22" cy="91.8" r="1.75" fill="none" stroke="#d0d440" stroke-width="1.25"/>
<circle cx="465.22" cy="200.25" r="1.75" fill="none" stroke="#d0d440" stroke-width="1.25"/>
<circle cx="465.22" cy="145.5" r="1.75" fill="none" stroke="#d0d440" stroke-width="1.25"/>
<circle cx="465.22" cy="160.2" r="1.75" fill="none" stroke="#d0d440" stroke-width="1.25"/>
<circle cx="465.22" cy="173.67" r="1.75" fill="none" stroke="#d0d440" stroke-width="1.25"/>
<line x1="465.22" y1="124.67" x2="465.22" y2="180.58" stroke="#c6c800" stroke-width="1.8"/>
<line x1="462.02" y1="124.67" x2="468.42" y2="124.67" stroke="#c6c800" stroke-width="1.8"/>
<line x1="462.02" y1="180.58" x2="468.42" y2="180.58" stroke="#c6c800" stroke-width="1.8"/>
<ellipse cx="465.22" cy="145.5" rx="1.9" ry="1.6" fill="#c6c800" opacity="0.7"/>
<ellipse cx="465.22" cy="160.2" rx="1.9" ry="1.6" fill="#c6c800" opacity="0.7"/>
<ellipse cx="465.22" cy="173.67" rx="1.9" ry="1.6" fill="#c6c800" opacity="0.7"/>
<circle cx="465.22" cy="153.11" r="3.2" fill="#c6c800"/>
<circle cx="479.86" cy="136.46" r="1.75" fill="none" stroke="#d0d440" stroke-width="1.25"/>
<circle cx="479.86" cy="190.68" r="1.75" fill="none" stroke="#d0d440" stroke-width="1.25"/>
<circle cx="479.86" cy="201.93" r="1.75" fill="none" stroke="#d0d440" stroke-width="1.25"/>
<circle cx="479.86" cy="160.38" r="1.75" fill="none" stroke="#d0d440" stroke-width="1.25"/>
<circle cx="479.86" cy="173.67" r="1.75" fill="none" stroke="#d0d440" stroke-width="1.25"/>
<circle cx="479.86" cy="178.1" r="1.75" fill="none" stroke="#d0d440" stroke-width="1.25"/>
<line x1="479.86" y1="148.51" x2="479.86" y2="188.82" stroke="#c6c800" stroke-width="1.8"/>
<line x1="476.66" y1="148.51" x2="483.06" y2="148.51" stroke="#c6c800" stroke-width="1.8"/>
<line x1="476.66" y1="188.82" x2="483.06" y2="188.82" stroke="#c6c800" stroke-width="1.8"/>
<ellipse cx="479.86" cy="160.38" rx="1.9" ry="1.6" fill="#c6c800" opacity="0.7"/>
<ellipse cx="479.86" cy="173.67" rx="1.9" ry="1.6" fill="#c6c800" opacity="0.7"/>
<ellipse cx="479.86" cy="178.1" rx="1.9" ry="1.6" fill="#c6c800" opacity="0.7"/>
<circle cx="479.86" cy="169.06" r="3.2" fill="#c6c800"/>
<circle cx="492.94" cy="147.09" r="1.75" fill="none" stroke="#d0d440" stroke-width="1.25"/>
<circle cx="492.94" cy="192.72" r="1.75" fill="none" stroke="#d0d440" stroke-width="1.25"/>
<circle cx="492.94" cy="203" r="1.75" fill="none" stroke="#d0d440" stroke-width="1.25"/>
<circle cx="492.94" cy="164.81" r="1.75" fill="none" stroke="#d0d440" stroke-width="1.25"/>
<circle cx="492.94" cy="179.87" r="1.75" fill="none" stroke="#d0d440" stroke-width="1.25"/>
<circle cx="492.94" cy="185.19" r="1.75" fill="none" stroke="#d0d440" stroke-width="1.25"/>
<line x1="492.94" y1="156.04" x2="492.94" y2="190.42" stroke="#c6c800" stroke-width="1.8"/>
<line x1="489.74" y1="156.04" x2="496.14" y2="156.04" stroke="#c6c800" stroke-width="1.8"/>
<line x1="489.74" y1="190.42" x2="496.14" y2="190.42" stroke="#c6c800" stroke-width="1.8"/>
<ellipse cx="492.94" cy="164.81" rx="1.9" ry="1.6" fill="#c6c800" opacity="0.7"/>
<ellipse cx="492.94" cy="179.87" rx="1.9" ry="1.6" fill="#c6c800" opacity="0.7"/>
<ellipse cx="492.94" cy="185.19" rx="1.9" ry="1.6" fill="#c6c800" opacity="0.7"/>
<circle cx="492.94" cy="173.49" r="3.2" fill="#c6c800"/>
<circle cx="502.18" cy="151.17" r="1.75" fill="none" stroke="#d0d440" stroke-width="1.25"/>
<circle cx="502.18" cy="155.06" r="1.75" fill="none" stroke="#d0d440" stroke-width="1.25"/>
<circle cx="502.18" cy="213.98" r="1.75" fill="none" stroke="#d0d440" stroke-width="1.25"/>
<circle cx="502.18" cy="172.78" r="1.75" fill="none" stroke="#d0d440" stroke-width="1.25"/>
<circle cx="502.18" cy="187.85" r="1.75" fill="none" stroke="#d0d440" stroke-width="1.25"/>
<line x1="502.18" y1="160.03" x2="502.18" y2="198.12" stroke="#c6c800" stroke-width="1.8"/>
<line x1="498.98" y1="160.03" x2="505.38" y2="160.03" stroke="#c6c800" stroke-width="1.8"/>
<line x1="498.98" y1="198.12" x2="505.38" y2="198.12" stroke="#c6c800" stroke-width="1.8"/>
<ellipse cx="502.18" cy="172.78" rx="1.9" ry="1.6" fill="#c6c800" opacity="0.7"/>
<ellipse cx="502.18" cy="187.85" rx="1.9" ry="1.6" fill="#c6c800" opacity="0.7"/>
<circle cx="502.18" cy="179.34" r="3.2" fill="#c6c800"/>
<circle cx="511.42" cy="163.75" r="1.75" fill="none" stroke="#d0d440" stroke-width="1.25"/>
<circle cx="511.42" cy="197.59" r="1.75" fill="none" stroke="#d0d440" stroke-width="1.25"/>
<circle cx="511.42" cy="171.01" r="1.75" fill="none" stroke="#d0d440" stroke-width="1.25"/>
<circle cx="511.42" cy="187.85" r="1.75" fill="none" stroke="#d0d440" stroke-width="1.25"/>
<line x1="511.42" y1="167.03" x2="511.42" y2="193.16" stroke="#c6c800" stroke-width="1.8"/>
<line x1="508.22" y1="167.03" x2="514.62" y2="167.03" stroke="#c6c800" stroke-width="1.8"/>
<line x1="508.22" y1="193.16" x2="514.62" y2="193.16" stroke="#c6c800" stroke-width="1.8"/>
<ellipse cx="511.42" cy="171.01" rx="1.9" ry="1.6" fill="#c6c800" opacity="0.7"/>
<ellipse cx="511.42" cy="187.85" rx="1.9" ry="1.6" fill="#c6c800" opacity="0.7"/>
<circle cx="511.42" cy="180.14" r="3.2" fill="#c6c800"/>
<polyline points="370.14,142.51 372.5,142.52 374.85,142.52 377.21,142.52 379.56,142.52 381.92,142.53 384.27,142.53 386.62,142.53 388.98,142.54 391.33,142.55 393.69,142.56 396.04,142.57 398.4,142.58 400.75,142.6 403.11,142.61 405.46,142.64 407.82,142.66 410.17,142.7 412.53,142.74 414.88,142.79 417.24,142.85 419.59,142.92 421.95,143 424.3,143.11 426.65,143.23 429.01,143.38 431.36,143.56 433.72,143.78 436.07,144.03 438.43,144.34 440.78,144.71 443.14,145.14 445.49,145.66 447.85,146.26 450.2,146.97 452.56,147.79 454.91,148.73 457.27,149.8 459.62,151.02 461.98,152.37 464.33,153.86 466.69,155.48 469.04,157.21 471.39,159.04 473.75,160.92 476.1,162.83 478.46,164.73 480.81,166.59 483.17,168.38 485.52,170.07 487.88,171.65 490.23,173.09 492.59,174.39 494.94,175.55 497.3,176.57 499.65,177.46 502.01,178.24 504.36,178.9 506.72,179.47 509.07,179.95 511.42,180.36" fill="none" stroke="#c6c800" stroke-width="1.7"/>
<text transform="translate(294.38,25.59) scale(0.95,1)" font-size="27.8" font-weight="bold">(</text>
<text transform="translate(325.21,25.59) scale(0.95,1)" font-size="27.8" font-weight="bold">)</text>
<text transform="translate(304.42,26.1) scale(0.92,1)" font-size="29.2" font-weight="bold">B</text>
<text x="412.7" y="47.7" font-size="14.4" font-weight="bold">N Virus</text>
<text x="0" y="0" transform="translate(326.3,145) rotate(-90)" text-anchor="middle" font-size="12.9" font-weight="bold">% Infection</text>
<text x="379.5" y="259.5" font-size="12.7" font-weight="bold">[WT-Griffithsin], nM</text>
<line x1="63.4" y1="523.8" x2="63.4" y2="384.7" stroke="#000" stroke-width="1.4"/>
<line x1="57.1" y1="517.3" x2="217.7" y2="517.3" stroke="#000" stroke-width="1.4"/>
<line x1="57.1" y1="517.3" x2="63.4" y2="517.3" stroke="#000" stroke-width="1.4"/>
<text x="54.9" y="521.1" text-anchor="end" font-size="11.2" font-weight="bold">0</text>
<line x1="59.9" y1="508.46" x2="63.4" y2="508.46" stroke="#000" stroke-width="1.4"/>
<line x1="59.9" y1="499.62" x2="63.4" y2="499.62" stroke="#000" stroke-width="1.4"/>
<line x1="59.9" y1="490.78" x2="63.4" y2="490.78" stroke="#000" stroke-width="1.4"/>
<line x1="59.9" y1="481.94" x2="63.4" y2="481.94" stroke="#000" stroke-width="1.4"/>
<line x1="57.1" y1="473.1" x2="63.4" y2="473.1" stroke="#000" stroke-width="1.4"/>
<text x="54.9" y="476.9" text-anchor="end" font-size="11.2" font-weight="bold">50</text>
<line x1="59.9" y1="464.26" x2="63.4" y2="464.26" stroke="#000" stroke-width="1.4"/>
<line x1="59.9" y1="455.42" x2="63.4" y2="455.42" stroke="#000" stroke-width="1.4"/>
<line x1="59.9" y1="446.58" x2="63.4" y2="446.58" stroke="#000" stroke-width="1.4"/>
<line x1="59.9" y1="437.74" x2="63.4" y2="437.74" stroke="#000" stroke-width="1.4"/>
<line x1="57.1" y1="428.9" x2="63.4" y2="428.9" stroke="#000" stroke-width="1.4"/>
<text x="54.9" y="432.7" text-anchor="end" font-size="11.2" font-weight="bold">100</text>
<line x1="59.9" y1="420.06" x2="63.4" y2="420.06" stroke="#000" stroke-width="1.4"/>
<line x1="59.9" y1="411.22" x2="63.4" y2="411.22" stroke="#000" stroke-width="1.4"/>
<line x1="59.9" y1="402.38" x2="63.4" y2="402.38" stroke="#000" stroke-width="1.4"/>
<line x1="59.9" y1="393.54" x2="63.4" y2="393.54" stroke="#000" stroke-width="1.4"/>
<line x1="60" y1="384.7" x2="67" y2="384.7" stroke="#000" stroke-width="1.4"/>
<text x="54.9" y="388.5" text-anchor="end" font-size="11.2" font-weight="bold">150</text>
<line x1="63.4" y1="372.6" x2="63.4" y2="362.6" stroke="#000" stroke-width="1.4"/>
<line x1="57.1" y1="362.6" x2="63.4" y2="362.6" stroke="#000" stroke-width="1.4"/>
<line x1="60" y1="369.27" x2="63.4" y2="369.27" stroke="#000" stroke-width="1.4"/>
<line x1="60" y1="365.93" x2="63.4" y2="365.93" stroke="#000" stroke-width="1.4"/>
<line x1="60" y1="372.6" x2="67" y2="372.6" stroke="#000" stroke-width="1.4"/>
<text x="54.9" y="366.6" text-anchor="end" font-size="11.2" font-weight="bold">200</text>
<text x="54.9" y="376.6" text-anchor="end" font-size="11.2" font-weight="bold">170</text>
<line x1="63.4" y1="517.3" x2="63.4" y2="523.6" stroke="#000" stroke-width="1.4"/>
<line x1="72.65" y1="517.3" x2="72.65" y2="520.7" stroke="#000" stroke-width="1.4"/>
<line x1="78.06" y1="517.3" x2="78.06" y2="520.7" stroke="#000" stroke-width="1.4"/>
<line x1="81.9" y1="517.3" x2="81.9" y2="520.7" stroke="#000" stroke-width="1.4"/>
<line x1="84.87" y1="517.3" x2="84.87" y2="520.7" stroke="#000" stroke-width="1.4"/>
<line x1="87.3" y1="517.3" x2="87.3" y2="520.7" stroke="#000" stroke-width="1.4"/>
<line x1="89.36" y1="517.3" x2="89.36" y2="520.7" stroke="#000" stroke-width="1.4"/>
<line x1="91.14" y1="517.3" x2="91.14" y2="520.7" stroke="#000" stroke-width="1.4"/>
<line x1="92.71" y1="517.3" x2="92.71" y2="520.7" stroke="#000" stroke-width="1.4"/>
<text x="63.4" y="536.5" text-anchor="middle" font-size="11.3" font-weight="bold">0.1</text>
<line x1="94.12" y1="517.3" x2="94.12" y2="523.6" stroke="#000" stroke-width="1.4"/>
<line x1="103.37" y1="517.3" x2="103.37" y2="520.7" stroke="#000" stroke-width="1.4"/>
<line x1="108.78" y1="517.3" x2="108.78" y2="520.7" stroke="#000" stroke-width="1.4"/>
<line x1="112.62" y1="517.3" x2="112.62" y2="520.7" stroke="#000" stroke-width="1.4"/>
<line x1="115.59" y1="517.3" x2="115.59" y2="520.7" stroke="#000" stroke-width="1.4"/>
<line x1="118.02" y1="517.3" x2="118.02" y2="520.7" stroke="#000" stroke-width="1.4"/>
<line x1="120.08" y1="517.3" x2="120.08" y2="520.7" stroke="#000" stroke-width="1.4"/>
<line x1="121.86" y1="517.3" x2="121.86" y2="520.7" stroke="#000" stroke-width="1.4"/>
<line x1="123.43" y1="517.3" x2="123.43" y2="520.7" stroke="#000" stroke-width="1.4"/>
<text x="94.12" y="536.5" text-anchor="middle" font-size="11.3" font-weight="bold">1</text>
<line x1="124.84" y1="517.3" x2="124.84" y2="523.6" stroke="#000" stroke-width="1.4"/>
<line x1="134.09" y1="517.3" x2="134.09" y2="520.7" stroke="#000" stroke-width="1.4"/>
<line x1="139.5" y1="517.3" x2="139.5" y2="520.7" stroke="#000" stroke-width="1.4"/>
<line x1="143.34" y1="517.3" x2="143.34" y2="520.7" stroke="#000" stroke-width="1.4"/>
<line x1="146.31" y1="517.3" x2="146.31" y2="520.7" stroke="#000" stroke-width="1.4"/>
<line x1="148.74" y1="517.3" x2="148.74" y2="520.7" stroke="#000" stroke-width="1.4"/>
<line x1="150.8" y1="517.3" x2="150.8" y2="520.7" stroke="#000" stroke-width="1.4"/>
<line x1="152.58" y1="517.3" x2="152.58" y2="520.7" stroke="#000" stroke-width="1.4"/>
<line x1="154.15" y1="517.3" x2="154.15" y2="520.7" stroke="#000" stroke-width="1.4"/>
<text x="124.84" y="536.5" text-anchor="middle" font-size="11.3" font-weight="bold">10</text>
<line x1="155.56" y1="517.3" x2="155.56" y2="523.6" stroke="#000" stroke-width="1.4"/>
<line x1="164.81" y1="517.3" x2="164.81" y2="520.7" stroke="#000" stroke-width="1.4"/>
<line x1="170.22" y1="517.3" x2="170.22" y2="520.7" stroke="#000" stroke-width="1.4"/>
<line x1="174.06" y1="517.3" x2="174.06" y2="520.7" stroke="#000" stroke-width="1.4"/>
<line x1="177.03" y1="517.3" x2="177.03" y2="520.7" stroke="#000" stroke-width="1.4"/>
<line x1="179.46" y1="517.3" x2="179.46" y2="520.7" stroke="#000" stroke-width="1.4"/>
<line x1="181.52" y1="517.3" x2="181.52" y2="520.7" stroke="#000" stroke-width="1.4"/>
<line x1="183.3" y1="517.3" x2="183.3" y2="520.7" stroke="#000" stroke-width="1.4"/>
<line x1="184.87" y1="517.3" x2="184.87" y2="520.7" stroke="#000" stroke-width="1.4"/>
<text x="155.56" y="536.5" text-anchor="middle" font-size="11.3" font-weight="bold">100</text>
<line x1="186.28" y1="517.3" x2="186.28" y2="523.6" stroke="#000" stroke-width="1.4"/>
<line x1="195.53" y1="517.3" x2="195.53" y2="520.7" stroke="#000" stroke-width="1.4"/>
<line x1="200.94" y1="517.3" x2="200.94" y2="520.7" stroke="#000" stroke-width="1.4"/>
<line x1="204.78" y1="517.3" x2="204.78" y2="520.7" stroke="#000" stroke-width="1.4"/>
<line x1="207.75" y1="517.3" x2="207.75" y2="520.7" stroke="#000" stroke-width="1.4"/>
<line x1="210.18" y1="517.3" x2="210.18" y2="520.7" stroke="#000" stroke-width="1.4"/>
<line x1="212.24" y1="517.3" x2="212.24" y2="520.7" stroke="#000" stroke-width="1.4"/>
<line x1="214.02" y1="517.3" x2="214.02" y2="520.7" stroke="#000" stroke-width="1.4"/>
<line x1="215.59" y1="517.3" x2="215.59" y2="520.7" stroke="#000" stroke-width="1.4"/>
<text x="186.28" y="536.5" text-anchor="middle" font-size="11.3" font-weight="bold">1000</text>
<line x1="217" y1="517.3" x2="217" y2="523.6" stroke="#000" stroke-width="1.4"/>
<text x="218.5" y="536.5" text-anchor="middle" font-size="11.3" font-weight="bold">10,000</text>
<path d="M69.35 507.51h1.9v1.9h-1.9zM76.26 507.51h1.9v1.9h-1.9zM83.17 507.51h1.9v1.9h-1.9zM90.08 507.51h1.9v1.9h-1.9zM96.99 507.51h1.9v1.9h-1.9zM103.9 507.51h1.9v1.9h-1.9zM110.81 507.51h1.9v1.9h-1.9zM117.72 507.51h1.9v1.9h-1.9zM124.63 507.51h1.9v1.9h-1.9zM131.54 507.51h1.9v1.9h-1.9zM138.45 507.51h1.9v1.9h-1.9zM145.36 507.51h1.9v1.9h-1.9zM152.27 507.51h1.9v1.9h-1.9zM159.18 507.51h1.9v1.9h-1.9zM166.09 507.51h1.9v1.9h-1.9zM173 507.51h1.9v1.9h-1.9zM179.91 507.51h1.9v1.9h-1.9zM186.82 507.51h1.9v1.9h-1.9zM193.73 507.51h1.9v1.9h-1.9zM200.64 507.51h1.9v1.9h-1.9zM207.55 507.51h1.9v1.9h-1.9zM214.46 507.51h1.9v1.9h-1.9z" fill="#000"/>
<circle cx="72.65" cy="402.91" r="1.75" fill="none" stroke="#ace2c0" stroke-width="1.25"/>
<circle cx="72.65" cy="494.23" r="1.75" fill="none" stroke="#ace2c0" stroke-width="1.25"/>
<circle cx="72.65" cy="428.9" r="1.75" fill="none" stroke="#ace2c0" stroke-width="1.25"/>
<circle cx="72.65" cy="454.71" r="1.75" fill="none" stroke="#ace2c0" stroke-width="1.25"/>
<circle cx="72.65" cy="464.26" r="1.75" fill="none" stroke="#ace2c0" stroke-width="1.25"/>
<line x1="72.65" y1="417.41" x2="72.65" y2="473.9" stroke="#8cdca5" stroke-width="1.8"/>
<line x1="69.45" y1="417.41" x2="75.85" y2="417.41" stroke="#8cdca5" stroke-width="1.8"/>
<line x1="69.45" y1="473.9" x2="75.85" y2="473.9" stroke="#8cdca5" stroke-width="1.8"/>
<ellipse cx="72.65" cy="428.9" rx="1.9" ry="1.6" fill="#8cdca5" opacity="0.7"/>
<ellipse cx="72.65" cy="454.71" rx="1.9" ry="1.6" fill="#8cdca5" opacity="0.7"/>
<ellipse cx="72.65" cy="464.26" rx="1.9" ry="1.6" fill="#8cdca5" opacity="0.7"/>
<circle cx="72.65" cy="445.52" r="3.2" fill="#8cdca5"/>
<circle cx="103.37" cy="396.19" r="1.75" fill="none" stroke="#ace2c0" stroke-width="1.25"/>
<circle cx="103.37" cy="500.24" r="1.75" fill="none" stroke="#ace2c0" stroke-width="1.25"/>
<circle cx="103.37" cy="437.74" r="1.75" fill="none" stroke="#ace2c0" stroke-width="1.25"/>
<circle cx="103.37" cy="463.38" r="1.75" fill="none" stroke="#ace2c0" stroke-width="1.25"/>
<circle cx="103.37" cy="472.22" r="1.75" fill="none" stroke="#ace2c0" stroke-width="1.25"/>
<line x1="103.37" y1="421.83" x2="103.37" y2="481.94" stroke="#8cdca5" stroke-width="1.8"/>
<line x1="100.17" y1="421.83" x2="106.57" y2="421.83" stroke="#8cdca5" stroke-width="1.8"/>
<line x1="100.17" y1="481.94" x2="106.57" y2="481.94" stroke="#8cdca5" stroke-width="1.8"/>
<ellipse cx="103.37" cy="437.74" rx="1.9" ry="1.6" fill="#8cdca5" opacity="0.7"/>
<ellipse cx="103.37" cy="463.38" rx="1.9" ry="1.6" fill="#8cdca5" opacity="0.7"/>
<ellipse cx="103.37" cy="472.22" rx="1.9" ry="1.6" fill="#8cdca5" opacity="0.7"/>
<circle cx="103.37" cy="451.88" r="3.2" fill="#8cdca5"/>
<circle cx="134.09" cy="398.84" r="1.75" fill="none" stroke="#ace2c0" stroke-width="1.25"/>
<circle cx="134.09" cy="415.11" r="1.75" fill="none" stroke="#ace2c0" stroke-width="1.25"/>
<circle cx="134.09" cy="467.53" r="1.75" fill="none" stroke="#ace2c0" stroke-width="1.25"/>
<circle cx="134.09" cy="430.67" r="1.75" fill="none" stroke="#ace2c0" stroke-width="1.25"/>
<circle cx="134.09" cy="457.19" r="1.75" fill="none" stroke="#ace2c0" stroke-width="1.25"/>
<circle cx="134.09" cy="461.61" r="1.75" fill="none" stroke="#ace2c0" stroke-width="1.25"/>
<line x1="134.09" y1="418.29" x2="134.09" y2="466.38" stroke="#8cdca5" stroke-width="1.8"/>
<line x1="130.89" y1="418.29" x2="137.29" y2="418.29" stroke="#8cdca5" stroke-width="1.8"/>
<line x1="130.89" y1="466.38" x2="137.29" y2="466.38" stroke="#8cdca5" stroke-width="1.8"/>
<ellipse cx="134.09" cy="430.67" rx="1.9" ry="1.6" fill="#8cdca5" opacity="0.7"/>
<ellipse cx="134.09" cy="457.19" rx="1.9" ry="1.6" fill="#8cdca5" opacity="0.7"/>
<ellipse cx="134.09" cy="461.61" rx="1.9" ry="1.6" fill="#8cdca5" opacity="0.7"/>
<circle cx="134.09" cy="442.51" r="3.2" fill="#8cdca5"/>
<circle cx="150.8" cy="367.4" r="1.75" fill="none" stroke="#ace2c0" stroke-width="1.25"/>
<circle cx="150.8" cy="493.79" r="1.75" fill="none" stroke="#ace2c0" stroke-width="1.25"/>
<circle cx="150.8" cy="408.57" r="1.75" fill="none" stroke="#ace2c0" stroke-width="1.25"/>
<circle cx="150.8" cy="422.71" r="1.75" fill="none" stroke="#ace2c0" stroke-width="1.25"/>
<circle cx="150.8" cy="468.68" r="1.75" fill="none" stroke="#ace2c0" stroke-width="1.25"/>
<line x1="150.8" y1="385.58" x2="150.8" y2="479.11" stroke="#8cdca5" stroke-width="1.8"/>
<line x1="147.6" y1="385.58" x2="154" y2="385.58" stroke="#8cdca5" stroke-width="1.8"/>
<line x1="147.6" y1="479.11" x2="154" y2="479.11" stroke="#8cdca5" stroke-width="1.8"/>
<ellipse cx="150.8" cy="408.57" rx="1.9" ry="1.6" fill="#8cdca5" opacity="0.7"/>
<ellipse cx="150.8" cy="422.71" rx="1.9" ry="1.6" fill="#8cdca5" opacity="0.7"/>
<ellipse cx="150.8" cy="468.68" rx="1.9" ry="1.6" fill="#8cdca5" opacity="0.7"/>
<circle cx="150.8" cy="431.2" r="3.2" fill="#8cdca5"/>
<circle cx="167.78" cy="406.98" r="1.75" fill="none" stroke="#ace2c0" stroke-width="1.25"/>
<circle cx="167.78" cy="493.52" r="1.75" fill="none" stroke="#ace2c0" stroke-width="1.25"/>
<circle cx="167.78" cy="446.58" r="1.75" fill="none" stroke="#ace2c0" stroke-width="1.25"/>
<circle cx="167.78" cy="468.68" r="1.75" fill="none" stroke="#ace2c0" stroke-width="1.25"/>
<circle cx="167.78" cy="477.52" r="1.75" fill="none" stroke="#ace2c0" stroke-width="1.25"/>
<line x1="167.78" y1="435.18" x2="167.78" y2="486.89" stroke="#8cdca5" stroke-width="1.8"/>
<line x1="164.58" y1="435.18" x2="170.98" y2="435.18" stroke="#8cdca5" stroke-width="1.8"/>
<line x1="164.58" y1="486.89" x2="170.98" y2="486.89" stroke="#8cdca5" stroke-width="1.8"/>
<ellipse cx="167.78" cy="446.58" rx="1.9" ry="1.6" fill="#8cdca5" opacity="0.7"/>
<ellipse cx="167.78" cy="468.68" rx="1.9" ry="1.6" fill="#8cdca5" opacity="0.7"/>
<ellipse cx="167.78" cy="477.52" rx="1.9" ry="1.6" fill="#8cdca5" opacity="0.7"/>
<circle cx="167.78" cy="461.08" r="3.2" fill="#8cdca5"/>
<circle cx="182.44" cy="395.66" r="1.75" fill="none" stroke="#ace2c0" stroke-width="1.25"/>
<circle cx="182.44" cy="422.18" r="1.75" fill="none" stroke="#ace2c0" stroke-width="1.25"/>
<circle cx="182.44" cy="484.77" r="1.75" fill="none" stroke="#ace2c0" stroke-width="1.25"/>
<circle cx="182.44" cy="437.74" r="1.75" fill="none" stroke="#ace2c0" stroke-width="1.25"/>
<circle cx="182.44" cy="459.84" r="1.75" fill="none" stroke="#ace2c0" stroke-width="1.25"/>
<circle cx="182.44" cy="473.98" r="1.75" fill="none" stroke="#ace2c0" stroke-width="1.25"/>
<line x1="182.44" y1="424.57" x2="182.44" y2="478.76" stroke="#8cdca5" stroke-width="1.8"/>
<line x1="179.24" y1="424.57" x2="185.64" y2="424.57" stroke="#8cdca5" stroke-width="1.8"/>
<line x1="179.24" y1="478.76" x2="185.64" y2="478.76" stroke="#8cdca5" stroke-width="1.8"/>
<ellipse cx="182.44" cy="437.74" rx="1.9" ry="1.6" fill="#8cdca5" opacity="0.7"/>
<ellipse cx="182.44" cy="459.84" rx="1.9" ry="1.6" fill="#8cdca5" opacity="0.7"/>
<ellipse cx="182.44" cy="473.98" rx="1.9" ry="1.6" fill="#8cdca5" opacity="0.7"/>
<circle cx="182.44" cy="452.06" r="3.2" fill="#8cdca5"/>
<circle cx="195.53" cy="440.57" r="1.75" fill="none" stroke="#ace2c0" stroke-width="1.25"/>
<circle cx="195.53" cy="445.87" r="1.75" fill="none" stroke="#ace2c0" stroke-width="1.25"/>
<circle cx="195.53" cy="483.71" r="1.75" fill="none" stroke="#ace2c0" stroke-width="1.25"/>
<circle cx="195.53" cy="455.42" r="1.75" fill="none" stroke="#ace2c0" stroke-width="1.25"/>
<circle cx="195.53" cy="468.68" r="1.75" fill="none" stroke="#ace2c0" stroke-width="1.25"/>
<circle cx="195.53" cy="477.52" r="1.75" fill="none" stroke="#ace2c0" stroke-width="1.25"/>
<line x1="195.53" y1="447.99" x2="195.53" y2="479.91" stroke="#8cdca5" stroke-width="1.8"/>
<line x1="192.33" y1="447.99" x2="198.73" y2="447.99" stroke="#8cdca5" stroke-width="1.8"/>
<line x1="192.33" y1="479.91" x2="198.73" y2="479.91" stroke="#8cdca5" stroke-width="1.8"/>
<ellipse cx="195.53" cy="455.42" rx="1.9" ry="1.6" fill="#8cdca5" opacity="0.7"/>
<ellipse cx="195.53" cy="468.68" rx="1.9" ry="1.6" fill="#8cdca5" opacity="0.7"/>
<ellipse cx="195.53" cy="477.52" rx="1.9" ry="1.6" fill="#8cdca5" opacity="0.7"/>
<circle cx="195.53" cy="463.99" r="3.2" fill="#8cdca5"/>
<circle cx="204.78" cy="436.86" r="1.75" fill="none" stroke="#ace2c0" stroke-width="1.25"/>
<circle cx="204.78" cy="449.59" r="1.75" fill="none" stroke="#ace2c0" stroke-width="1.25"/>
<circle cx="204.78" cy="515.09" r="1.75" fill="none" stroke="#ace2c0" stroke-width="1.25"/>
<circle cx="204.78" cy="468.68" r="1.75" fill="none" stroke="#ace2c0" stroke-width="1.25"/>
<circle cx="204.78" cy="495.2" r="1.75" fill="none" stroke="#ace2c0" stroke-width="1.25"/>
<circle cx="204.78" cy="502.27" r="1.75" fill="none" stroke="#ace2c0" stroke-width="1.25"/>
<line x1="204.78" y1="458.6" x2="204.78" y2="510.23" stroke="#8cdca5" stroke-width="1.8"/>
<line x1="201.58" y1="458.6" x2="207.98" y2="458.6" stroke="#8cdca5" stroke-width="1.8"/>
<line x1="201.58" y1="510.23" x2="207.98" y2="510.23" stroke="#8cdca5" stroke-width="1.8"/>
<ellipse cx="204.78" cy="468.68" rx="1.9" ry="1.6" fill="#8cdca5" opacity="0.7"/>
<ellipse cx="204.78" cy="495.2" rx="1.9" ry="1.6" fill="#8cdca5" opacity="0.7"/>
<ellipse cx="204.78" cy="502.27" rx="1.9" ry="1.6" fill="#8cdca5" opacity="0.7"/>
<circle cx="204.78" cy="484.5" r="3.2" fill="#8cdca5"/>
<circle cx="214.02" cy="434.2" r="1.75" fill="none" stroke="#ace2c0" stroke-width="1.25"/>
<circle cx="214.02" cy="512.61" r="1.75" fill="none" stroke="#ace2c0" stroke-width="1.25"/>
<circle cx="214.02" cy="462.49" r="1.75" fill="none" stroke="#ace2c0" stroke-width="1.25"/>
<circle cx="214.02" cy="485.48" r="1.75" fill="none" stroke="#ace2c0" stroke-width="1.25"/>
<circle cx="214.02" cy="490.78" r="1.75" fill="none" stroke="#ace2c0" stroke-width="1.25"/>
<line x1="214.02" y1="452.86" x2="214.02" y2="504.92" stroke="#8cdca5" stroke-width="1.8"/>
<line x1="210.82" y1="452.86" x2="217.22" y2="452.86" stroke="#8cdca5" stroke-width="1.8"/>
<line x1="210.82" y1="504.92" x2="217.22" y2="504.92" stroke="#8cdca5" stroke-width="1.8"/>
<ellipse cx="214.02" cy="462.49" rx="1.9" ry="1.6" fill="#8cdca5" opacity="0.7"/>
<ellipse cx="214.02" cy="485.48" rx="1.9" ry="1.6" fill="#8cdca5" opacity="0.7"/>
<ellipse cx="214.02" cy="490.78" rx="1.9" ry="1.6" fill="#8cdca5" opacity="0.7"/>
<circle cx="214.02" cy="478.76" r="3.2" fill="#8cdca5"/>
<polyline points="72.65,445.51 75,445.51 77.36,445.51 79.72,445.51 82.07,445.51 84.43,445.51 86.79,445.52 89.14,445.52 91.5,445.52 93.85,445.52 96.21,445.52 98.57,445.52 100.92,445.52 103.28,445.52 105.64,445.52 107.99,445.52 110.35,445.52 112.7,445.52 115.06,445.52 117.42,445.53 119.77,445.53 122.13,445.54 124.49,445.54 126.84,445.55 129.2,445.56 131.55,445.57 133.91,445.59 136.27,445.61 138.62,445.63 140.98,445.67 143.34,445.71 145.69,445.76 148.05,445.83 150.4,445.92 152.76,446.02 155.12,446.16 157.47,446.34 159.83,446.56 162.19,446.84 164.54,447.19 166.9,447.63 169.25,448.17 171.61,448.85 173.97,449.68 176.32,450.68 178.68,451.9 181.04,453.33 183.39,455.01 185.75,456.93 188.1,459.08 190.46,461.43 192.82,463.94 195.17,466.53 197.53,469.13 199.89,471.68 202.24,474.09 204.6,476.32 206.95,478.33 209.31,480.09 211.67,481.62 214.02,482.91" fill="none" stroke="#8cdca5" stroke-width="1.7"/>
<text transform="translate(5.68,309.19) scale(0.95,1)" font-size="27.8" font-weight="bold">(</text>
<text transform="translate(36.11,309.19) scale(0.95,1)" font-size="27.8" font-weight="bold">)</text>
<text transform="translate(15.53,308.8) scale(0.91,1)" font-size="29.4" font-weight="bold">C</text>
<text x="115.5" y="342.7" font-size="14.4" font-weight="bold">E Virus</text>
<text x="0" y="0" transform="translate(28.3,439.7) rotate(-90)" text-anchor="middle" font-size="12.9" font-weight="bold">% Infection</text>
<text x="81.6" y="554.8" font-size="12.7" font-weight="bold">[WT-Griffithsin], nM</text>
<line x1="367.9" y1="524.5" x2="367.9" y2="363.12" stroke="#000" stroke-width="1.4"/>
<line x1="361.6" y1="518" x2="522.1" y2="518" stroke="#000" stroke-width="1.4"/>
<line x1="361.6" y1="518" x2="367.9" y2="518" stroke="#000" stroke-width="1.4"/>
<text x="359.8" y="522.1" text-anchor="end" font-size="11.2" font-weight="bold">0</text>
<line x1="364.4" y1="508.32" x2="367.9" y2="508.32" stroke="#000" stroke-width="1.4"/>
<line x1="364.4" y1="498.64" x2="367.9" y2="498.64" stroke="#000" stroke-width="1.4"/>
<line x1="364.4" y1="488.96" x2="367.9" y2="488.96" stroke="#000" stroke-width="1.4"/>
<line x1="364.4" y1="479.28" x2="367.9" y2="479.28" stroke="#000" stroke-width="1.4"/>
<line x1="361.6" y1="469.6" x2="367.9" y2="469.6" stroke="#000" stroke-width="1.4"/>
<text x="359.8" y="473.7" text-anchor="end" font-size="11.2" font-weight="bold">50</text>
<line x1="364.4" y1="459.92" x2="367.9" y2="459.92" stroke="#000" stroke-width="1.4"/>
<line x1="364.4" y1="450.24" x2="367.9" y2="450.24" stroke="#000" stroke-width="1.4"/>
<line x1="364.4" y1="440.56" x2="367.9" y2="440.56" stroke="#000" stroke-width="1.4"/>
<line x1="364.4" y1="430.88" x2="367.9" y2="430.88" stroke="#000" stroke-width="1.4"/>
<line x1="361.6" y1="421.2" x2="367.9" y2="421.2" stroke="#000" stroke-width="1.4"/>
<text x="359.8" y="425.3" text-anchor="end" font-size="11.2" font-weight="bold">100</text>
<line x1="364.4" y1="411.52" x2="367.9" y2="411.52" stroke="#000" stroke-width="1.4"/>
<line x1="364.4" y1="401.84" x2="367.9" y2="401.84" stroke="#000" stroke-width="1.4"/>
<line x1="364.4" y1="392.16" x2="367.9" y2="392.16" stroke="#000" stroke-width="1.4"/>
<line x1="364.4" y1="382.48" x2="367.9" y2="382.48" stroke="#000" stroke-width="1.4"/>
<line x1="361.6" y1="372.8" x2="367.9" y2="372.8" stroke="#000" stroke-width="1.4"/>
<text x="359.8" y="376.9" text-anchor="end" font-size="11.2" font-weight="bold">150</text>
<line x1="364.4" y1="363.12" x2="367.9" y2="363.12" stroke="#000" stroke-width="1.4"/>
<line x1="367.9" y1="518" x2="367.9" y2="524.3" stroke="#000" stroke-width="1.4"/>
<line x1="377.14" y1="518" x2="377.14" y2="521.4" stroke="#000" stroke-width="1.4"/>
<line x1="382.55" y1="518" x2="382.55" y2="521.4" stroke="#000" stroke-width="1.4"/>
<line x1="386.38" y1="518" x2="386.38" y2="521.4" stroke="#000" stroke-width="1.4"/>
<line x1="389.36" y1="518" x2="389.36" y2="521.4" stroke="#000" stroke-width="1.4"/>
<line x1="391.79" y1="518" x2="391.79" y2="521.4" stroke="#000" stroke-width="1.4"/>
<line x1="393.84" y1="518" x2="393.84" y2="521.4" stroke="#000" stroke-width="1.4"/>
<line x1="395.62" y1="518" x2="395.62" y2="521.4" stroke="#000" stroke-width="1.4"/>
<line x1="397.2" y1="518" x2="397.2" y2="521.4" stroke="#000" stroke-width="1.4"/>
<text x="367.9" y="537.2" text-anchor="middle" font-size="11.3" font-weight="bold">0.1</text>
<line x1="398.6" y1="518" x2="398.6" y2="524.3" stroke="#000" stroke-width="1.4"/>
<line x1="407.84" y1="518" x2="407.84" y2="521.4" stroke="#000" stroke-width="1.4"/>
<line x1="413.25" y1="518" x2="413.25" y2="521.4" stroke="#000" stroke-width="1.4"/>
<line x1="417.08" y1="518" x2="417.08" y2="521.4" stroke="#000" stroke-width="1.4"/>
<line x1="420.06" y1="518" x2="420.06" y2="521.4" stroke="#000" stroke-width="1.4"/>
<line x1="422.49" y1="518" x2="422.49" y2="521.4" stroke="#000" stroke-width="1.4"/>
<line x1="424.54" y1="518" x2="424.54" y2="521.4" stroke="#000" stroke-width="1.4"/>
<line x1="426.32" y1="518" x2="426.32" y2="521.4" stroke="#000" stroke-width="1.4"/>
<line x1="427.9" y1="518" x2="427.9" y2="521.4" stroke="#000" stroke-width="1.4"/>
<text x="398.6" y="537.2" text-anchor="middle" font-size="11.3" font-weight="bold">1</text>
<line x1="429.3" y1="518" x2="429.3" y2="524.3" stroke="#000" stroke-width="1.4"/>
<line x1="438.54" y1="518" x2="438.54" y2="521.4" stroke="#000" stroke-width="1.4"/>
<line x1="443.95" y1="518" x2="443.95" y2="521.4" stroke="#000" stroke-width="1.4"/>
<line x1="447.78" y1="518" x2="447.78" y2="521.4" stroke="#000" stroke-width="1.4"/>
<line x1="450.76" y1="518" x2="450.76" y2="521.4" stroke="#000" stroke-width="1.4"/>
<line x1="453.19" y1="518" x2="453.19" y2="521.4" stroke="#000" stroke-width="1.4"/>
<line x1="455.24" y1="518" x2="455.24" y2="521.4" stroke="#000" stroke-width="1.4"/>
<line x1="457.02" y1="518" x2="457.02" y2="521.4" stroke="#000" stroke-width="1.4"/>
<line x1="458.6" y1="518" x2="458.6" y2="521.4" stroke="#000" stroke-width="1.4"/>
<text x="429.3" y="537.2" text-anchor="middle" font-size="11.3" font-weight="bold">10</text>
<line x1="460" y1="518" x2="460" y2="524.3" stroke="#000" stroke-width="1.4"/>
<line x1="469.24" y1="518" x2="469.24" y2="521.4" stroke="#000" stroke-width="1.4"/>
<line x1="474.65" y1="518" x2="474.65" y2="521.4" stroke="#000" stroke-width="1.4"/>
<line x1="478.48" y1="518" x2="478.48" y2="521.4" stroke="#000" stroke-width="1.4"/>
<line x1="481.46" y1="518" x2="481.46" y2="521.4" stroke="#000" stroke-width="1.4"/>
<line x1="483.89" y1="518" x2="483.89" y2="521.4" stroke="#000" stroke-width="1.4"/>
<line x1="485.94" y1="518" x2="485.94" y2="521.4" stroke="#000" stroke-width="1.4"/>
<line x1="487.72" y1="518" x2="487.72" y2="521.4" stroke="#000" stroke-width="1.4"/>
<line x1="489.3" y1="518" x2="489.3" y2="521.4" stroke="#000" stroke-width="1.4"/>
<text x="460" y="537.2" text-anchor="middle" font-size="11.3" font-weight="bold">100</text>
<line x1="490.7" y1="518" x2="490.7" y2="524.3" stroke="#000" stroke-width="1.4"/>
<line x1="499.94" y1="518" x2="499.94" y2="521.4" stroke="#000" stroke-width="1.4"/>
<line x1="505.35" y1="518" x2="505.35" y2="521.4" stroke="#000" stroke-width="1.4"/>
<line x1="509.18" y1="518" x2="509.18" y2="521.4" stroke="#000" stroke-width="1.4"/>
<line x1="512.16" y1="518" x2="512.16" y2="521.4" stroke="#000" stroke-width="1.4"/>
<line x1="514.59" y1="518" x2="514.59" y2="521.4" stroke="#000" stroke-width="1.4"/>
<line x1="516.64" y1="518" x2="516.64" y2="521.4" stroke="#000" stroke-width="1.4"/>
<line x1="518.42" y1="518" x2="518.42" y2="521.4" stroke="#000" stroke-width="1.4"/>
<line x1="520" y1="518" x2="520" y2="521.4" stroke="#000" stroke-width="1.4"/>
<text x="490.7" y="537.2" text-anchor="middle" font-size="11.3" font-weight="bold">1000</text>
<line x1="521.4" y1="518" x2="521.4" y2="524.3" stroke="#000" stroke-width="1.4"/>
<text x="522.9" y="537.2" text-anchor="middle" font-size="11.3" font-weight="bold">10,000</text>
<path d="M373.85 507.37h1.9v1.9h-1.9zM380.76 507.37h1.9v1.9h-1.9zM387.67 507.37h1.9v1.9h-1.9zM394.58 507.37h1.9v1.9h-1.9zM401.49 507.37h1.9v1.9h-1.9zM408.4 507.37h1.9v1.9h-1.9zM415.31 507.37h1.9v1.9h-1.9zM422.22 507.37h1.9v1.9h-1.9zM429.13 507.37h1.9v1.9h-1.9zM436.04 507.37h1.9v1.9h-1.9zM442.95 507.37h1.9v1.9h-1.9zM449.86 507.37h1.9v1.9h-1.9zM456.77 507.37h1.9v1.9h-1.9zM463.68 507.37h1.9v1.9h-1.9zM470.59 507.37h1.9v1.9h-1.9zM477.5 507.37h1.9v1.9h-1.9zM484.41 507.37h1.9v1.9h-1.9zM491.32 507.37h1.9v1.9h-1.9zM498.23 507.37h1.9v1.9h-1.9zM505.14 507.37h1.9v1.9h-1.9zM512.05 507.37h1.9v1.9h-1.9zM518.96 507.37h1.9v1.9h-1.9z" fill="#000"/>
<circle cx="377.14" cy="367.67" r="1.75" fill="none" stroke="#a88676" stroke-width="1.25"/>
<circle cx="377.14" cy="386.06" r="1.75" fill="none" stroke="#a88676" stroke-width="1.25"/>
<circle cx="377.14" cy="389.93" r="1.75" fill="none" stroke="#a88676" stroke-width="1.25"/>
<circle cx="377.14" cy="447.72" r="1.75" fill="none" stroke="#a88676" stroke-width="1.25"/>
<circle cx="377.14" cy="409.58" r="1.75" fill="none" stroke="#a88676" stroke-width="1.25"/>
<circle cx="377.14" cy="413.46" r="1.75" fill="none" stroke="#a88676" stroke-width="1.25"/>
<circle cx="377.14" cy="432.82" r="1.75" fill="none" stroke="#a88676" stroke-width="1.25"/>
<circle cx="377.14" cy="436.69" r="1.75" fill="none" stroke="#a88676" stroke-width="1.25"/>
<line x1="377.14" y1="393.61" x2="377.14" y2="444.53" stroke="#8a553a" stroke-width="1.8"/>
<line x1="373.94" y1="393.61" x2="380.34" y2="393.61" stroke="#8a553a" stroke-width="1.8"/>
<line x1="373.94" y1="444.53" x2="380.34" y2="444.53" stroke="#8a553a" stroke-width="1.8"/>
<ellipse cx="377.14" cy="409.58" rx="1.9" ry="1.6" fill="#8a553a" opacity="0.7"/>
<ellipse cx="377.14" cy="413.46" rx="1.9" ry="1.6" fill="#8a553a" opacity="0.7"/>
<ellipse cx="377.14" cy="432.82" rx="1.9" ry="1.6" fill="#8a553a" opacity="0.7"/>
<ellipse cx="377.14" cy="436.69" rx="1.9" ry="1.6" fill="#8a553a" opacity="0.7"/>
<circle cx="377.14" cy="418.78" r="3.2" fill="#8a553a"/>
<circle cx="407.84" cy="383.84" r="1.75" fill="none" stroke="#a88676" stroke-width="1.25"/>
<circle cx="407.84" cy="388.68" r="1.75" fill="none" stroke="#a88676" stroke-width="1.25"/>
<circle cx="407.84" cy="466.41" r="1.75" fill="none" stroke="#a88676" stroke-width="1.25"/>
<circle cx="407.84" cy="480.25" r="1.75" fill="none" stroke="#a88676" stroke-width="1.25"/>
<circle cx="407.84" cy="407.65" r="1.75" fill="none" stroke="#a88676" stroke-width="1.25"/>
<circle cx="407.84" cy="417.33" r="1.75" fill="none" stroke="#a88676" stroke-width="1.25"/>
<circle cx="407.84" cy="432.82" r="1.75" fill="none" stroke="#a88676" stroke-width="1.25"/>
<circle cx="407.84" cy="444.43" r="1.75" fill="none" stroke="#a88676" stroke-width="1.25"/>
<line x1="407.84" y1="395.26" x2="407.84" y2="453.92" stroke="#8a553a" stroke-width="1.8"/>
<line x1="404.64" y1="395.26" x2="411.04" y2="395.26" stroke="#8a553a" stroke-width="1.8"/>
<line x1="404.64" y1="453.92" x2="411.04" y2="453.92" stroke="#8a553a" stroke-width="1.8"/>
<ellipse cx="407.84" cy="407.65" rx="1.9" ry="1.6" fill="#8a553a" opacity="0.7"/>
<ellipse cx="407.84" cy="417.33" rx="1.9" ry="1.6" fill="#8a553a" opacity="0.7"/>
<ellipse cx="407.84" cy="432.82" rx="1.9" ry="1.6" fill="#8a553a" opacity="0.7"/>
<ellipse cx="407.84" cy="444.43" rx="1.9" ry="1.6" fill="#8a553a" opacity="0.7"/>
<circle cx="407.84" cy="424.49" r="3.2" fill="#8a553a"/>
<circle cx="438.54" cy="459.92" r="1.75" fill="none" stroke="#a88676" stroke-width="1.25"/>
<circle cx="438.54" cy="480.25" r="1.75" fill="none" stroke="#a88676" stroke-width="1.25"/>
<circle cx="438.54" cy="424.1" r="1.75" fill="none" stroke="#a88676" stroke-width="1.25"/>
<circle cx="438.54" cy="430.88" r="1.75" fill="none" stroke="#a88676" stroke-width="1.25"/>
<circle cx="438.54" cy="445.4" r="1.75" fill="none" stroke="#a88676" stroke-width="1.25"/>
<circle cx="438.54" cy="450.24" r="1.75" fill="none" stroke="#a88676" stroke-width="1.25"/>
<line x1="438.54" y1="416.46" x2="438.54" y2="456.73" stroke="#8a553a" stroke-width="1.8"/>
<line x1="435.34" y1="416.46" x2="441.74" y2="416.46" stroke="#8a553a" stroke-width="1.8"/>
<line x1="435.34" y1="456.73" x2="441.74" y2="456.73" stroke="#8a553a" stroke-width="1.8"/>
<ellipse cx="438.54" cy="424.1" rx="1.9" ry="1.6" fill="#8a553a" opacity="0.7"/>
<ellipse cx="438.54" cy="430.88" rx="1.9" ry="1.6" fill="#8a553a" opacity="0.7"/>
<ellipse cx="438.54" cy="445.4" rx="1.9" ry="1.6" fill="#8a553a" opacity="0.7"/>
<ellipse cx="438.54" cy="450.24" rx="1.9" ry="1.6" fill="#8a553a" opacity="0.7"/>
<circle cx="438.54" cy="436.3" r="3.2" fill="#8a553a"/>
<circle cx="455.24" cy="406.78" r="1.75" fill="none" stroke="#a88676" stroke-width="1.25"/>
<circle cx="455.24" cy="412.88" r="1.75" fill="none" stroke="#a88676" stroke-width="1.25"/>
<circle cx="455.24" cy="416.26" r="1.75" fill="none" stroke="#a88676" stroke-width="1.25"/>
<circle cx="455.24" cy="504.64" r="1.75" fill="none" stroke="#a88676" stroke-width="1.25"/>
<circle cx="455.24" cy="513.64" r="1.75" fill="none" stroke="#a88676" stroke-width="1.25"/>
<circle cx="455.24" cy="434.75" r="1.75" fill="none" stroke="#a88676" stroke-width="1.25"/>
<circle cx="455.24" cy="439.59" r="1.75" fill="none" stroke="#a88676" stroke-width="1.25"/>
<circle cx="455.24" cy="454.11" r="1.75" fill="none" stroke="#a88676" stroke-width="1.25"/>
<circle cx="455.24" cy="473.47" r="1.75" fill="none" stroke="#a88676" stroke-width="1.25"/>
<circle cx="455.24" cy="498.64" r="1.75" fill="none" stroke="#a88676" stroke-width="1.25"/>
<line x1="455.24" y1="423.14" x2="455.24" y2="503" stroke="#8a553a" stroke-width="1.8"/>
<line x1="452.04" y1="423.14" x2="458.44" y2="423.14" stroke="#8a553a" stroke-width="1.8"/>
<line x1="452.04" y1="503" x2="458.44" y2="503" stroke="#8a553a" stroke-width="1.8"/>
<ellipse cx="455.24" cy="434.75" rx="1.9" ry="1.6" fill="#8a553a" opacity="0.7"/>
<ellipse cx="455.24" cy="439.59" rx="1.9" ry="1.6" fill="#8a553a" opacity="0.7"/>
<ellipse cx="455.24" cy="454.11" rx="1.9" ry="1.6" fill="#8a553a" opacity="0.7"/>
<ellipse cx="455.24" cy="473.47" rx="1.9" ry="1.6" fill="#8a553a" opacity="0.7"/>
<ellipse cx="455.24" cy="498.64" rx="1.9" ry="1.6" fill="#8a553a" opacity="0.7"/>
<circle cx="455.24" cy="463.11" r="3.2" fill="#8a553a"/>
<circle cx="472.22" cy="402.42" r="1.75" fill="none" stroke="#a88676" stroke-width="1.25"/>
<circle cx="472.22" cy="404.45" r="1.75" fill="none" stroke="#a88676" stroke-width="1.25"/>
<circle cx="472.22" cy="498.16" r="1.75" fill="none" stroke="#a88676" stroke-width="1.25"/>
<circle cx="472.22" cy="507.06" r="1.75" fill="none" stroke="#a88676" stroke-width="1.25"/>
<circle cx="472.22" cy="423.14" r="1.75" fill="none" stroke="#a88676" stroke-width="1.25"/>
<circle cx="472.22" cy="429.91" r="1.75" fill="none" stroke="#a88676" stroke-width="1.25"/>
<circle cx="472.22" cy="435.72" r="1.75" fill="none" stroke="#a88676" stroke-width="1.25"/>
<circle cx="472.22" cy="466.7" r="1.75" fill="none" stroke="#a88676" stroke-width="1.25"/>
<circle cx="472.22" cy="473.47" r="1.75" fill="none" stroke="#a88676" stroke-width="1.25"/>
<circle cx="472.22" cy="507.35" r="1.75" fill="none" stroke="#a88676" stroke-width="1.25"/>
<line x1="472.22" y1="413.84" x2="472.22" y2="487.12" stroke="#8a553a" stroke-width="1.8"/>
<line x1="469.02" y1="413.84" x2="475.42" y2="413.84" stroke="#8a553a" stroke-width="1.8"/>
<line x1="469.02" y1="487.12" x2="475.42" y2="487.12" stroke="#8a553a" stroke-width="1.8"/>
<ellipse cx="472.22" cy="423.14" rx="1.9" ry="1.6" fill="#8a553a" opacity="0.7"/>
<ellipse cx="472.22" cy="429.91" rx="1.9" ry="1.6" fill="#8a553a" opacity="0.7"/>
<ellipse cx="472.22" cy="435.72" rx="1.9" ry="1.6" fill="#8a553a" opacity="0.7"/>
<ellipse cx="472.22" cy="466.7" rx="1.9" ry="1.6" fill="#8a553a" opacity="0.7"/>
<ellipse cx="472.22" cy="473.47" rx="1.9" ry="1.6" fill="#8a553a" opacity="0.7"/>
<ellipse cx="472.22" cy="507.35" rx="1.9" ry="1.6" fill="#8a553a" opacity="0.7"/>
<circle cx="472.22" cy="450.24" r="3.2" fill="#8a553a"/>
<circle cx="486.86" cy="425.46" r="1.75" fill="none" stroke="#a88676" stroke-width="1.25"/>
<circle cx="486.86" cy="439.3" r="1.75" fill="none" stroke="#a88676" stroke-width="1.25"/>
<circle cx="486.86" cy="516.06" r="1.75" fill="none" stroke="#a88676" stroke-width="1.25"/>
<circle cx="486.86" cy="446.37" r="1.75" fill="none" stroke="#a88676" stroke-width="1.25"/>
<circle cx="486.86" cy="465.73" r="1.75" fill="none" stroke="#a88676" stroke-width="1.25"/>
<circle cx="486.86" cy="487.99" r="1.75" fill="none" stroke="#a88676" stroke-width="1.25"/>
<circle cx="486.86" cy="501.54" r="1.75" fill="none" stroke="#a88676" stroke-width="1.25"/>
<line x1="486.86" y1="440.95" x2="486.86" y2="513.16" stroke="#8a553a" stroke-width="1.8"/>
<line x1="483.66" y1="440.95" x2="490.06" y2="440.95" stroke="#8a553a" stroke-width="1.8"/>
<line x1="483.66" y1="513.16" x2="490.06" y2="513.16" stroke="#8a553a" stroke-width="1.8"/>
<ellipse cx="486.86" cy="446.37" rx="1.9" ry="1.6" fill="#8a553a" opacity="0.7"/>
<ellipse cx="486.86" cy="465.73" rx="1.9" ry="1.6" fill="#8a553a" opacity="0.7"/>
<ellipse cx="486.86" cy="487.99" rx="1.9" ry="1.6" fill="#8a553a" opacity="0.7"/>
<ellipse cx="486.86" cy="501.54" rx="1.9" ry="1.6" fill="#8a553a" opacity="0.7"/>
<circle cx="486.86" cy="476.67" r="3.2" fill="#8a553a"/>
<circle cx="499.94" cy="444.24" r="1.75" fill="none" stroke="#a88676" stroke-width="1.25"/>
<circle cx="499.94" cy="516.06" r="1.75" fill="none" stroke="#a88676" stroke-width="1.25"/>
<circle cx="499.94" cy="460.89" r="1.75" fill="none" stroke="#a88676" stroke-width="1.25"/>
<circle cx="499.94" cy="472.5" r="1.75" fill="none" stroke="#a88676" stroke-width="1.25"/>
<circle cx="499.94" cy="494.77" r="1.75" fill="none" stroke="#a88676" stroke-width="1.25"/>
<line x1="499.94" y1="453.43" x2="499.94" y2="509.58" stroke="#8a553a" stroke-width="1.8"/>
<line x1="496.74" y1="453.43" x2="503.14" y2="453.43" stroke="#8a553a" stroke-width="1.8"/>
<line x1="496.74" y1="509.58" x2="503.14" y2="509.58" stroke="#8a553a" stroke-width="1.8"/>
<ellipse cx="499.94" cy="460.89" rx="1.9" ry="1.6" fill="#8a553a" opacity="0.7"/>
<ellipse cx="499.94" cy="472.5" rx="1.9" ry="1.6" fill="#8a553a" opacity="0.7"/>
<ellipse cx="499.94" cy="494.77" rx="1.9" ry="1.6" fill="#8a553a" opacity="0.7"/>
<circle cx="499.94" cy="481.51" r="3.2" fill="#8a553a"/>
<circle cx="509.18" cy="456.73" r="1.75" fill="none" stroke="#a88676" stroke-width="1.25"/>
<circle cx="509.18" cy="461.08" r="1.75" fill="none" stroke="#a88676" stroke-width="1.25"/>
<circle cx="509.18" cy="517.03" r="1.75" fill="none" stroke="#a88676" stroke-width="1.25"/>
<circle cx="509.18" cy="479.28" r="1.75" fill="none" stroke="#a88676" stroke-width="1.25"/>
<circle cx="509.18" cy="499.61" r="1.75" fill="none" stroke="#a88676" stroke-width="1.25"/>
<line x1="509.18" y1="468.54" x2="509.18" y2="517.52" stroke="#8a553a" stroke-width="1.8"/>
<line x1="505.98" y1="468.54" x2="512.38" y2="468.54" stroke="#8a553a" stroke-width="1.8"/>
<ellipse cx="509.18" cy="479.28" rx="1.9" ry="1.6" fill="#8a553a" opacity="0.7"/>
<ellipse cx="509.18" cy="499.61" rx="1.9" ry="1.6" fill="#8a553a" opacity="0.7"/>
<circle cx="509.18" cy="493.51" r="3.2" fill="#8a553a"/>
<circle cx="518.42" cy="468.44" r="1.75" fill="none" stroke="#a88676" stroke-width="1.25"/>
<circle cx="518.42" cy="472.99" r="1.75" fill="none" stroke="#a88676" stroke-width="1.25"/>
<circle cx="518.42" cy="517.03" r="1.75" fill="none" stroke="#a88676" stroke-width="1.25"/>
<circle cx="518.42" cy="484.12" r="1.75" fill="none" stroke="#a88676" stroke-width="1.25"/>
<circle cx="518.42" cy="500.58" r="1.75" fill="none" stroke="#a88676" stroke-width="1.25"/>
<circle cx="518.42" cy="513.16" r="1.75" fill="none" stroke="#a88676" stroke-width="1.25"/>
<line x1="518.42" y1="475.02" x2="518.42" y2="517.52" stroke="#8a553a" stroke-width="1.8"/>
<line x1="515.22" y1="475.02" x2="521.62" y2="475.02" stroke="#8a553a" stroke-width="1.8"/>
<ellipse cx="518.42" cy="484.12" rx="1.9" ry="1.6" fill="#8a553a" opacity="0.7"/>
<ellipse cx="518.42" cy="500.58" rx="1.9" ry="1.6" fill="#8a553a" opacity="0.7"/>
<ellipse cx="518.42" cy="513.16" rx="1.9" ry="1.6" fill="#8a553a" opacity="0.7"/>
<circle cx="518.42" cy="495.74" r="3.2" fill="#8a553a"/>
<polyline points="377.14,418.93 379.5,419.17 381.85,419.43 384.21,419.72 386.56,420.03 388.92,420.36 391.27,420.73 393.62,421.13 395.98,421.57 398.33,422.04 400.69,422.55 403.04,423.1 405.4,423.7 407.75,424.35 410.11,425.05 412.46,425.8 414.82,426.61 417.17,427.48 419.53,428.41 421.88,429.41 424.24,430.48 426.59,431.61 428.95,432.82 431.3,434.1 433.65,435.45 436.01,436.88 438.36,438.38 440.72,439.95 443.07,441.59 445.43,443.3 447.78,445.07 450.14,446.9 452.49,448.79 454.85,450.72 457.2,452.69 459.56,454.7 461.91,456.73 464.27,458.78 466.62,460.84 468.98,462.89 471.33,464.94 473.69,466.97 476.04,468.97 478.39,470.93 480.75,472.86 483.1,474.74 485.46,476.56 487.81,478.32 490.17,480.02 492.52,481.65 494.88,483.21 497.23,484.7 499.59,486.11 501.94,487.45 504.3,488.72 506.65,489.92 509.01,491.04 511.36,492.1 513.72,493.09 516.07,494.01 518.42,494.87" fill="none" stroke="#8a553a" stroke-width="1.7"/>
<text transform="translate(294.38,309.59) scale(0.95,1)" font-size="27.8" font-weight="bold">(</text>
<text transform="translate(325.21,309.59) scale(0.95,1)" font-size="27.8" font-weight="bold">)</text>
<text transform="translate(304.42,309.7) scale(0.92,1)" font-size="29.2" font-weight="bold">D</text>
<text x="408.2" y="342.7" font-size="14.4" font-weight="bold">MNE Virus</text>
<text x="0" y="0" transform="translate(333.2,440) rotate(-90)" text-anchor="middle" font-size="12.9" font-weight="bold">% Infection</text>
<text x="386" y="555.5" font-size="12.7" font-weight="bold">[WT-Griffithsin], nM</text>
<g transform="translate(214.9,37.4) scale(1.0)">
<g transform="rotate(0)"><circle cx="0" cy="-15.6" r="2.2" fill="#2a9e9c"/><circle cx="-3.3" cy="-19.7" r="2.75" fill="#2a9e9c"/><circle cx="3.3" cy="-19.7" r="2.75" fill="#2a9e9c"/><rect x="-1.8" y="-20" width="3.6" height="5.5" fill="#2a9e9c"/><rect x="-0.55" y="-22.5" width="1.1" height="8.5" fill="#1f7f7d"/></g>
<g transform="rotate(45)"><circle cx="0" cy="-15.6" r="2.2" fill="#2a9e9c"/><circle cx="-3.3" cy="-19.7" r="2.75" fill="#2a9e9c"/><circle cx="3.3" cy="-19.7" r="2.75" fill="#2a9e9c"/><rect x="-1.8" y="-20" width="3.6" height="5.5" fill="#2a9e9c"/><rect x="-0.55" y="-22.5" width="1.1" height="8.5" fill="#1f7f7d"/></g>
<g transform="rotate(90)"><circle cx="0" cy="-15.6" r="2.2" fill="#2a9e9c"/><circle cx="-3.3" cy="-19.7" r="2.75" fill="#2a9e9c"/><circle cx="3.3" cy="-19.7" r="2.75" fill="#2a9e9c"/><rect x="-1.8" y="-20" width="3.6" height="5.5" fill="#2a9e9c"/><rect x="-0.55" y="-22.5" width="1.1" height="8.5" fill="#1f7f7d"/></g>
<g transform="rotate(135)"><circle cx="0" cy="-15.6" r="2.2" fill="#2a9e9c"/><circle cx="-3.3" cy="-19.7" r="2.75" fill="#2a9e9c"/><circle cx="3.3" cy="-19.7" r="2.75" fill="#2a9e9c"/><rect x="-1.8" y="-20" width="3.6" height="5.5" fill="#2a9e9c"/><rect x="-0.55" y="-22.5" width="1.1" height="8.5" fill="#1f7f7d"/></g>
<g transform="rotate(180)"><circle cx="0" cy="-15.6" r="2.2" fill="#2a9e9c"/><circle cx="-3.3" cy="-19.7" r="2.75" fill="#2a9e9c"/><circle cx="3.3" cy="-19.7" r="2.75" fill="#2a9e9c"/><rect x="-1.8" y="-20" width="3.6" height="5.5" fill="#2a9e9c"/><rect x="-0.55" y="-22.5" width="1.1" height="8.5" fill="#1f7f7d"/></g>
<g transform="rotate(225)"><circle cx="0" cy="-15.6" r="2.2" fill="#2a9e9c"/><circle cx="-3.3" cy="-19.7" r="2.75" fill="#2a9e9c"/><circle cx="3.3" cy="-19.7" r="2.75" fill="#2a9e9c"/><rect x="-1.8" y="-20" width="3.6" height="5.5" fill="#2a9e9c"/><rect x="-0.55" y="-22.5" width="1.1" height="8.5" fill="#1f7f7d"/></g>
<g transform="rotate(270)"><circle cx="0" cy="-15.6" r="2.2" fill="#2a9e9c"/><circle cx="-3.3" cy="-19.7" r="2.75" fill="#2a9e9c"/><circle cx="3.3" cy="-19.7" r="2.75" fill="#2a9e9c"/><rect x="-1.8" y="-20" width="3.6" height="5.5" fill="#2a9e9c"/><rect x="-0.55" y="-22.5" width="1.1" height="8.5" fill="#1f7f7d"/></g>
<g transform="rotate(315)"><circle cx="0" cy="-15.6" r="2.2" fill="#2a9e9c"/><circle cx="-3.3" cy="-19.7" r="2.75" fill="#2a9e9c"/><circle cx="3.3" cy="-19.7" r="2.75" fill="#2a9e9c"/><rect x="-1.8" y="-20" width="3.6" height="5.5" fill="#2a9e9c"/><rect x="-0.55" y="-22.5" width="1.1" height="8.5" fill="#1f7f7d"/></g>
<circle cx="0" cy="0" r="15.2" fill="#14206a"/>
<g transform="rotate(22.5)"><ellipse cx="0" cy="-16.6" rx="2.4" ry="2.3" fill="#c0d2f2"/><path d="M-1.9,-18.2 L1.9,-14.6 M1.9,-18.2 L-1.9,-14.6 M0,-19 V-14" stroke="#f0f4fc" stroke-width="0.6" opacity="0.9"/></g>
<g transform="rotate(67.5)"><ellipse cx="0" cy="-16.6" rx="2.4" ry="2.3" fill="#c0d2f2"/><path d="M-1.9,-18.2 L1.9,-14.6 M1.9,-18.2 L-1.9,-14.6 M0,-19 V-14" stroke="#f0f4fc" stroke-width="0.6" opacity="0.9"/></g>
<g transform="rotate(112.5)"><ellipse cx="0" cy="-16.6" rx="2.4" ry="2.3" fill="#c0d2f2"/><path d="M-1.9,-18.2 L1.9,-14.6 M1.9,-18.2 L-1.9,-14.6 M0,-19 V-14" stroke="#f0f4fc" stroke-width="0.6" opacity="0.9"/></g>
<g transform="rotate(157.5)"><ellipse cx="0" cy="-16.6" rx="2.4" ry="2.3" fill="#c0d2f2"/><path d="M-1.9,-18.2 L1.9,-14.6 M1.9,-18.2 L-1.9,-14.6 M0,-19 V-14" stroke="#f0f4fc" stroke-width="0.6" opacity="0.9"/></g>
<g transform="rotate(202.5)"><ellipse cx="0" cy="-16.6" rx="2.4" ry="2.3" fill="#c0d2f2"/><path d="M-1.9,-18.2 L1.9,-14.6 M1.9,-18.2 L-1.9,-14.6 M0,-19 V-14" stroke="#f0f4fc" stroke-width="0.6" opacity="0.9"/></g>
<g transform="rotate(247.5)"><ellipse cx="0" cy="-16.6" rx="2.4" ry="2.3" fill="#c0d2f2"/><path d="M-1.9,-18.2 L1.9,-14.6 M1.9,-18.2 L-1.9,-14.6 M0,-19 V-14" stroke="#f0f4fc" stroke-width="0.6" opacity="0.9"/></g>
<g transform="rotate(292.5)"><ellipse cx="0" cy="-16.6" rx="2.4" ry="2.3" fill="#c0d2f2"/><path d="M-1.9,-18.2 L1.9,-14.6 M1.9,-18.2 L-1.9,-14.6 M0,-19 V-14" stroke="#f0f4fc" stroke-width="0.6" opacity="0.9"/></g>
<g transform="rotate(337.5)"><ellipse cx="0" cy="-16.6" rx="2.4" ry="2.3" fill="#c0d2f2"/><path d="M-1.9,-18.2 L1.9,-14.6 M1.9,-18.2 L-1.9,-14.6 M0,-19 V-14" stroke="#f0f4fc" stroke-width="0.6" opacity="0.9"/></g>
<circle cx="0" cy="0" r="10.0" fill="#f6f6f2"/>
<polygon points="8.2,0 4.1,7.1 -4.1,7.1 -8.2,0 -4.1,-7.1 4.1,-7.1" fill="#fbf0c8" stroke="#dda11e" stroke-width="1.5"/>
<path d="M-0.6,-3 Q-3.4,-3.2 -3,-0.6 Q-2.4,1.2 0.3,-0.2 Q3,-1.3 3.2,2.2 L2.6,4" fill="none" stroke="#d8202a" stroke-width="1.8" stroke-linecap="round"/>
</g>
<g transform="translate(511,39) scale(1.0)">
<g transform="rotate(0)"><circle cx="0" cy="-15.6" r="2.2" fill="#2a9e9c"/><circle cx="-3.3" cy="-19.7" r="2.75" fill="#2a9e9c"/><circle cx="3.3" cy="-19.7" r="2.75" fill="#2a9e9c"/><rect x="-1.8" y="-20" width="3.6" height="5.5" fill="#2a9e9c"/><rect x="-0.55" y="-22.5" width="1.1" height="8.5" fill="#1f7f7d"/></g>
<g transform="rotate(45)"><circle cx="0" cy="-15.6" r="2.2" fill="#2a9e9c"/><circle cx="-3.3" cy="-19.7" r="2.75" fill="#2a9e9c"/><circle cx="3.3" cy="-19.7" r="2.75" fill="#2a9e9c"/><rect x="-1.8" y="-20" width="3.6" height="5.5" fill="#2a9e9c"/><rect x="-0.55" y="-22.5" width="1.1" height="8.5" fill="#1f7f7d"/></g>
<g transform="rotate(90)"><circle cx="0" cy="-15.6" r="2.2" fill="#2a9e9c"/><circle cx="-3.3" cy="-19.7" r="2.75" fill="#2a9e9c"/><circle cx="3.3" cy="-19.7" r="2.75" fill="#2a9e9c"/><rect x="-1.8" y="-20" width="3.6" height="5.5" fill="#2a9e9c"/><rect x="-0.55" y="-22.5" width="1.1" height="8.5" fill="#1f7f7d"/></g>
<g transform="rotate(135)"><circle cx="0" cy="-15.6" r="2.2" fill="#2a9e9c"/><circle cx="-3.3" cy="-19.7" r="2.75" fill="#2a9e9c"/><circle cx="3.3" cy="-19.7" r="2.75" fill="#2a9e9c"/><rect x="-1.8" y="-20" width="3.6" height="5.5" fill="#2a9e9c"/><rect x="-0.55" y="-22.5" width="1.1" height="8.5" fill="#1f7f7d"/></g>
<g transform="rotate(180)"><circle cx="0" cy="-15.6" r="2.2" fill="#2a9e9c"/><circle cx="-3.3" cy="-19.7" r="2.75" fill="#2a9e9c"/><circle cx="3.3" cy="-19.7" r="2.75" fill="#2a9e9c"/><rect x="-1.8" y="-20" width="3.6" height="5.5" fill="#2a9e9c"/><rect x="-0.55" y="-22.5" width="1.1" height="8.5" fill="#1f7f7d"/></g>
<g transform="rotate(225)"><circle cx="0" cy="-15.6" r="2.2" fill="#2a9e9c"/><circle cx="-3.3" cy="-19.7" r="2.75" fill="#2a9e9c"/><circle cx="3.3" cy="-19.7" r="2.75" fill="#2a9e9c"/><rect x="-1.8" y="-20" width="3.6" height="5.5" fill="#2a9e9c"/><rect x="-0.55" y="-22.5" width="1.1" height="8.5" fill="#1f7f7d"/></g>
<g transform="rotate(270)"><circle cx="0" cy="-15.6" r="2.2" fill="#2a9e9c"/><circle cx="-3.3" cy="-19.7" r="2.75" fill="#2a9e9c"/><circle cx="3.3" cy="-19.7" r="2.75" fill="#2a9e9c"/><rect x="-1.8" y="-20" width="3.6" height="5.5" fill="#2a9e9c"/><rect x="-0.55" y="-22.5" width="1.1" height="8.5" fill="#1f7f7d"/></g>
<g transform="rotate(315)"><circle cx="0" cy="-15.6" r="2.2" fill="#2a9e9c"/><circle cx="-3.3" cy="-19.7" r="2.75" fill="#2a9e9c"/><circle cx="3.3" cy="-19.7" r="2.75" fill="#2a9e9c"/><rect x="-1.8" y="-20" width="3.6" height="5.5" fill="#2a9e9c"/><rect x="-0.55" y="-22.5" width="1.1" height="8.5" fill="#1f7f7d"/></g>
<circle cx="0" cy="0" r="15.2" fill="#14206a"/>
<circle cx="0" cy="0" r="10.0" fill="#f6f6f2"/>
<polygon points="8.2,0 4.1,7.1 -4.1,7.1 -8.2,0 -4.1,-7.1 4.1,-7.1" fill="#fbf0c8" stroke="#dda11e" stroke-width="1.5"/>
<circle cx="-5.6" cy="0.2" r="1.6" fill="#f2e6a8" stroke="#e2a81c" stroke-width="0.9"/>
<circle cx="5.6" cy="-0.2" r="1.6" fill="#f2e6a8" stroke="#e2a81c" stroke-width="0.9"/>
<circle cx="0" cy="-4.0" r="1.6" fill="#f2e6a8" stroke="#e2a81c" stroke-width="0.9"/>
<circle cx="1.5" cy="3.8" r="1.6" fill="#f2e6a8" stroke="#e2a81c" stroke-width="0.9"/>
<path d="M-0.4,-3.2 Q-4,-3 -2.6,0.4 Q-1,2 1,0 Q3.4,-1.6 3.6,1.6 Q3.4,3.4 1.6,3.6" fill="none" stroke="#d8202a" stroke-width="1.4" stroke-linecap="round"/>
</g>
<g transform="translate(216.5,323) scale(1.0)">
<g transform="rotate(0)"><circle cx="0" cy="-15.6" r="2.2" fill="#2a9e9c"/><circle cx="-3.3" cy="-19.7" r="2.75" fill="#2a9e9c"/><circle cx="3.3" cy="-19.7" r="2.75" fill="#2a9e9c"/><rect x="-1.8" y="-20" width="3.6" height="5.5" fill="#2a9e9c"/><rect x="-0.55" y="-22.5" width="1.1" height="8.5" fill="#1f7f7d"/></g>
<g transform="rotate(45)"><circle cx="0" cy="-15.6" r="2.2" fill="#2a9e9c"/><circle cx="-3.3" cy="-19.7" r="2.75" fill="#2a9e9c"/><circle cx="3.3" cy="-19.7" r="2.75" fill="#2a9e9c"/><rect x="-1.8" y="-20" width="3.6" height="5.5" fill="#2a9e9c"/><rect x="-0.55" y="-22.5" width="1.1" height="8.5" fill="#1f7f7d"/></g>
<g transform="rotate(90)"><circle cx="0" cy="-15.6" r="2.2" fill="#2a9e9c"/><circle cx="-3.3" cy="-19.7" r="2.75" fill="#2a9e9c"/><circle cx="3.3" cy="-19.7" r="2.75" fill="#2a9e9c"/><rect x="-1.8" y="-20" width="3.6" height="5.5" fill="#2a9e9c"/><rect x="-0.55" y="-22.5" width="1.1" height="8.5" fill="#1f7f7d"/></g>
<g transform="rotate(135)"><circle cx="0" cy="-15.6" r="2.2" fill="#2a9e9c"/><circle cx="-3.3" cy="-19.7" r="2.75" fill="#2a9e9c"/><circle cx="3.3" cy="-19.7" r="2.75" fill="#2a9e9c"/><rect x="-1.8" y="-20" width="3.6" height="5.5" fill="#2a9e9c"/><rect x="-0.55" y="-22.5" width="1.1" height="8.5" fill="#1f7f7d"/></g>
<g transform="rotate(180)"><circle cx="0" cy="-15.6" r="2.2" fill="#2a9e9c"/><circle cx="-3.3" cy="-19.7" r="2.75" fill="#2a9e9c"/><circle cx="3.3" cy="-19.7" r="2.75" fill="#2a9e9c"/><rect x="-1.8" y="-20" width="3.6" height="5.5" fill="#2a9e9c"/><rect x="-0.55" y="-22.5" width="1.1" height="8.5" fill="#1f7f7d"/></g>
<g transform="rotate(225)"><circle cx="0" cy="-15.6" r="2.2" fill="#2a9e9c"/><circle cx="-3.3" cy="-19.7" r="2.75" fill="#2a9e9c"/><circle cx="3.3" cy="-19.7" r="2.75" fill="#2a9e9c"/><rect x="-1.8" y="-20" width="3.6" height="5.5" fill="#2a9e9c"/><rect x="-0.55" y="-22.5" width="1.1" height="8.5" fill="#1f7f7d"/></g>
<g transform="rotate(270)"><circle cx="0" cy="-15.6" r="2.2" fill="#2a9e9c"/><circle cx="-3.3" cy="-19.7" r="2.75" fill="#2a9e9c"/><circle cx="3.3" cy="-19.7" r="2.75" fill="#2a9e9c"/><rect x="-1.8" y="-20" width="3.6" height="5.5" fill="#2a9e9c"/><rect x="-0.55" y="-22.5" width="1.1" height="8.5" fill="#1f7f7d"/></g>
<g transform="rotate(315)"><circle cx="0" cy="-15.6" r="2.2" fill="#2a9e9c"/><circle cx="-3.3" cy="-19.7" r="2.75" fill="#2a9e9c"/><circle cx="3.3" cy="-19.7" r="2.75" fill="#2a9e9c"/><rect x="-1.8" y="-20" width="3.6" height="5.5" fill="#2a9e9c"/><rect x="-0.55" y="-22.5" width="1.1" height="8.5" fill="#1f7f7d"/></g>
<circle cx="0" cy="0" r="15.2" fill="#14206a"/>
<g transform="rotate(22.5)"><ellipse cx="0" cy="-16.6" rx="2.4" ry="2.3" fill="#6cc88c"/><path d="M-1.9,-18.2 L1.9,-14.6 M1.9,-18.2 L-1.9,-14.6 M0,-19 V-14" stroke="#f0f4fc" stroke-width="0.6" opacity="0.9"/></g>
<g transform="rotate(157.5)"><ellipse cx="0" cy="-16.6" rx="2.4" ry="2.3" fill="#6cc88c"/><path d="M-1.9,-18.2 L1.9,-14.6 M1.9,-18.2 L-1.9,-14.6 M0,-19 V-14" stroke="#f0f4fc" stroke-width="0.6" opacity="0.9"/></g>
<g transform="rotate(202.5)"><ellipse cx="0" cy="-16.6" rx="2.4" ry="2.3" fill="#6cc88c"/><path d="M-1.9,-18.2 L1.9,-14.6 M1.9,-18.2 L-1.9,-14.6 M0,-19 V-14" stroke="#f0f4fc" stroke-width="0.6" opacity="0.9"/></g>
<g transform="rotate(337.5)"><ellipse cx="0" cy="-16.6" rx="2.4" ry="2.3" fill="#6cc88c"/><path d="M-1.9,-18.2 L1.9,-14.6 M1.9,-18.2 L-1.9,-14.6 M0,-19 V-14" stroke="#f0f4fc" stroke-width="0.6" opacity="0.9"/></g>
<circle cx="0" cy="0" r="10.0" fill="#f6f6f2"/>
<polygon points="8.2,0 4.1,7.1 -4.1,7.1 -8.2,0 -4.1,-7.1 4.1,-7.1" fill="#fbf0c8" stroke="#dda11e" stroke-width="1.5"/>
<path d="M-0.6,-3 Q-3.4,-3.2 -3,-0.6 Q-2.4,1.2 0.3,-0.2 Q3,-1.3 3.2,2.2 L2.6,4" fill="none" stroke="#d8202a" stroke-width="1.8" stroke-linecap="round"/>
</g>
<g transform="translate(522.7,322.5) scale(1.0)">
<g transform="rotate(0)"><circle cx="0" cy="-15.6" r="2.2" fill="#2a9e9c"/><circle cx="-3.3" cy="-19.7" r="2.75" fill="#2a9e9c"/><circle cx="3.3" cy="-19.7" r="2.75" fill="#2a9e9c"/><rect x="-1.8" y="-20" width="3.6" height="5.5" fill="#2a9e9c"/><rect x="-0.55" y="-22.5" width="1.1" height="8.5" fill="#1f7f7d"/></g>
<g transform="rotate(45)"><circle cx="0" cy="-15.6" r="2.2" fill="#2a9e9c"/><circle cx="-3.3" cy="-19.7" r="2.75" fill="#2a9e9c"/><circle cx="3.3" cy="-19.7" r="2.75" fill="#2a9e9c"/><rect x="-1.8" y="-20" width="3.6" height="5.5" fill="#2a9e9c"/><rect x="-0.55" y="-22.5" width="1.1" height="8.5" fill="#1f7f7d"/></g>
<g transform="rotate(90)"><circle cx="0" cy="-15.6" r="2.2" fill="#2a9e9c"/><circle cx="-3.3" cy="-19.7" r="2.75" fill="#2a9e9c"/><circle cx="3.3" cy="-19.7" r="2.75" fill="#2a9e9c"/><rect x="-1.8" y="-20" width="3.6" height="5.5" fill="#2a9e9c"/><rect x="-0.55" y="-22.5" width="1.1" height="8.5" fill="#1f7f7d"/></g>
<g transform="rotate(135)"><circle cx="0" cy="-15.6" r="2.2" fill="#2a9e9c"/><circle cx="-3.3" cy="-19.7" r="2.75" fill="#2a9e9c"/><circle cx="3.3" cy="-19.7" r="2.75" fill="#2a9e9c"/><rect x="-1.8" y="-20" width="3.6" height="5.5" fill="#2a9e9c"/><rect x="-0.55" y="-22.5" width="1.1" height="8.5" fill="#1f7f7d"/></g>
<g transform="rotate(180)"><circle cx="0" cy="-15.6" r="2.2" fill="#2a9e9c"/><circle cx="-3.3" cy="-19.7" r="2.75" fill="#2a9e9c"/><circle cx="3.3" cy="-19.7" r="2.75" fill="#2a9e9c"/><rect x="-1.8" y="-20" width="3.6" height="5.5" fill="#2a9e9c"/><rect x="-0.55" y="-22.5" width="1.1" height="8.5" fill="#1f7f7d"/></g>
<g transform="rotate(225)"><circle cx="0" cy="-15.6" r="2.2" fill="#2a9e9c"/><circle cx="-3.3" cy="-19.7" r="2.75" fill="#2a9e9c"/><circle cx="3.3" cy="-19.7" r="2.75" fill="#2a9e9c"/><rect x="-1.8" y="-20" width="3.6" height="5.5" fill="#2a9e9c"/><rect x="-0.55" y="-22.5" width="1.1" height="8.5" fill="#1f7f7d"/></g>
<g transform="rotate(270)"><circle cx="0" cy="-15.6" r="2.2" fill="#2a9e9c"/><circle cx="-3.3" cy="-19.7" r="2.75" fill="#2a9e9c"/><circle cx="3.3" cy="-19.7" r="2.75" fill="#2a9e9c"/><rect x="-1.8" y="-20" width="3.6" height="5.5" fill="#2a9e9c"/><rect x="-0.55" y="-22.5" width="1.1" height="8.5" fill="#1f7f7d"/></g>
<g transform="rotate(315)"><circle cx="0" cy="-15.6" r="2.2" fill="#2a9e9c"/><circle cx="-3.3" cy="-19.7" r="2.75" fill="#2a9e9c"/><circle cx="3.3" cy="-19.7" r="2.75" fill="#2a9e9c"/><rect x="-1.8" y="-20" width="3.6" height="5.5" fill="#2a9e9c"/><rect x="-0.55" y="-22.5" width="1.1" height="8.5" fill="#1f7f7d"/></g>
<circle cx="0" cy="0" r="15.2" fill="#14206a"/>
<g transform="rotate(22.5)"><ellipse cx="0" cy="-16.6" rx="2.4" ry="2.3" fill="#6cc88c"/><path d="M-1.9,-18.2 L1.9,-14.6 M1.9,-18.2 L-1.9,-14.6 M0,-19 V-14" stroke="#f0f4fc" stroke-width="0.6" opacity="0.9"/></g>
<g transform="rotate(67.5)"><ellipse cx="0" cy="-16.6" rx="2.4" ry="2.3" fill="#c0d2f2"/><path d="M-1.9,-18.2 L1.9,-14.6 M1.9,-18.2 L-1.9,-14.6 M0,-19 V-14" stroke="#f0f4fc" stroke-width="0.6" opacity="0.9"/></g>
<g transform="rotate(112.5)"><ellipse cx="0" cy="-16.6" rx="2.4" ry="2.3" fill="#c0d2f2"/><path d="M-1.9,-18.2 L1.9,-14.6 M1.9,-18.2 L-1.9,-14.6 M0,-19 V-14" stroke="#f0f4fc" stroke-width="0.6" opacity="0.9"/></g>
<g transform="rotate(157.5)"><ellipse cx="0" cy="-16.6" rx="2.4" ry="2.3" fill="#c0d2f2"/><path d="M-1.9,-18.2 L1.9,-14.6 M1.9,-18.2 L-1.9,-14.6 M0,-19 V-14" stroke="#f0f4fc" stroke-width="0.6" opacity="0.9"/></g>
<g transform="rotate(202.5)"><ellipse cx="0" cy="-16.6" rx="2.4" ry="2.3" fill="#6cc88c"/><path d="M-1.9,-18.2 L1.9,-14.6 M1.9,-18.2 L-1.9,-14.6 M0,-19 V-14" stroke="#f0f4fc" stroke-width="0.6" opacity="0.9"/></g>
<g transform="rotate(247.5)"><ellipse cx="0" cy="-16.6" rx="2.4" ry="2.3" fill="#c0d2f2"/><path d="M-1.9,-18.2 L1.9,-14.6 M1.9,-18.2 L-1.9,-14.6 M0,-19 V-14" stroke="#f0f4fc" stroke-width="0.6" opacity="0.9"/></g>
<g transform="rotate(292.5)"><ellipse cx="0" cy="-16.6" rx="2.4" ry="2.3" fill="#c0d2f2"/><path d="M-1.9,-18.2 L1.9,-14.6 M1.9,-18.2 L-1.9,-14.6 M0,-19 V-14" stroke="#f0f4fc" stroke-width="0.6" opacity="0.9"/></g>
<g transform="rotate(337.5)"><ellipse cx="0" cy="-16.6" rx="2.4" ry="2.3" fill="#c0d2f2"/><path d="M-1.9,-18.2 L1.9,-14.6 M1.9,-18.2 L-1.9,-14.6 M0,-19 V-14" stroke="#f0f4fc" stroke-width="0.6" opacity="0.9"/></g>
<circle cx="0" cy="0" r="10.0" fill="#f6f6f2"/>
<polygon points="8.2,0 4.1,7.1 -4.1,7.1 -8.2,0 -4.1,-7.1 4.1,-7.1" fill="#fbf0c8" stroke="#dda11e" stroke-width="1.5"/>
<circle cx="-5.6" cy="0.2" r="1.6" fill="#f2e6a8" stroke="#e2a81c" stroke-width="0.9"/>
<circle cx="5.6" cy="-0.2" r="1.6" fill="#f2e6a8" stroke="#e2a81c" stroke-width="0.9"/>
<circle cx="0" cy="-4.0" r="1.6" fill="#f2e6a8" stroke="#e2a81c" stroke-width="0.9"/>
<circle cx="1.5" cy="3.8" r="1.6" fill="#f2e6a8" stroke="#e2a81c" stroke-width="0.9"/>
<path d="M-0.4,-3.2 Q-4,-3 -2.6,0.4 Q-1,2 1,0 Q3.4,-1.6 3.6,1.6 Q3.4,3.4 1.6,3.6" fill="none" stroke="#d8202a" stroke-width="1.4" stroke-linecap="round"/>
</g>
</svg>
</body></html>
